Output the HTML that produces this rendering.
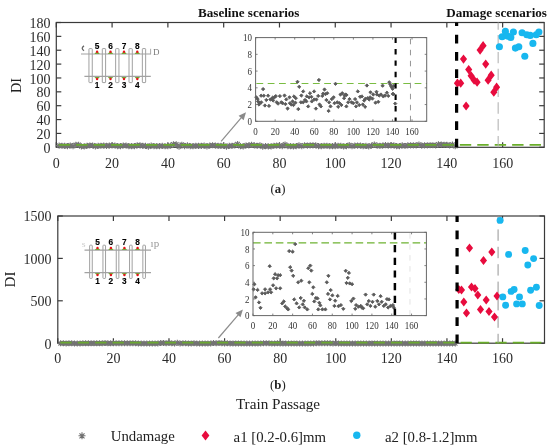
<!DOCTYPE html>
<html><head><meta charset="utf-8"><title>DI figure</title><style>html,body{margin:0;padding:0;background:#fff;overflow:hidden}svg{display:block}</style></head><body>
<svg width="550" height="448" viewBox="0 0 550 448">
<rect width="550" height="448" fill="#fff"/>
<rect x="56.3" y="22.5" width="487.9" height="124.8" fill="none" stroke="#3a3a3a" stroke-width="1.2"/>
<line x1="56.3" y1="147.3" x2="61.3" y2="147.3" stroke="#3a3a3a" stroke-width="1.2"/>
<line x1="544.2" y1="147.3" x2="539.2" y2="147.3" stroke="#3a3a3a" stroke-width="1.2"/>
<text transform="translate(50.4 152.9) scale(1 1.06)" font-family="'Liberation Serif','Times New Roman',serif" font-size="14" font-weight="normal" text-anchor="end" fill="#2a2a2a">0</text>
<line x1="56.3" y1="133.43" x2="61.3" y2="133.43" stroke="#3a3a3a" stroke-width="1.2"/>
<line x1="544.2" y1="133.43" x2="539.2" y2="133.43" stroke="#3a3a3a" stroke-width="1.2"/>
<text transform="translate(50.4 139.03) scale(1 1.06)" font-family="'Liberation Serif','Times New Roman',serif" font-size="14" font-weight="normal" text-anchor="end" fill="#2a2a2a">20</text>
<line x1="56.3" y1="119.57" x2="61.3" y2="119.57" stroke="#3a3a3a" stroke-width="1.2"/>
<line x1="544.2" y1="119.57" x2="539.2" y2="119.57" stroke="#3a3a3a" stroke-width="1.2"/>
<text transform="translate(50.4 125.17) scale(1 1.06)" font-family="'Liberation Serif','Times New Roman',serif" font-size="14" font-weight="normal" text-anchor="end" fill="#2a2a2a">40</text>
<line x1="56.3" y1="105.7" x2="61.3" y2="105.7" stroke="#3a3a3a" stroke-width="1.2"/>
<line x1="544.2" y1="105.7" x2="539.2" y2="105.7" stroke="#3a3a3a" stroke-width="1.2"/>
<text transform="translate(50.4 111.3) scale(1 1.06)" font-family="'Liberation Serif','Times New Roman',serif" font-size="14" font-weight="normal" text-anchor="end" fill="#2a2a2a">60</text>
<line x1="56.3" y1="91.83" x2="61.3" y2="91.83" stroke="#3a3a3a" stroke-width="1.2"/>
<line x1="544.2" y1="91.83" x2="539.2" y2="91.83" stroke="#3a3a3a" stroke-width="1.2"/>
<text transform="translate(50.4 97.43) scale(1 1.06)" font-family="'Liberation Serif','Times New Roman',serif" font-size="14" font-weight="normal" text-anchor="end" fill="#2a2a2a">80</text>
<line x1="56.3" y1="77.97" x2="61.3" y2="77.97" stroke="#3a3a3a" stroke-width="1.2"/>
<line x1="544.2" y1="77.97" x2="539.2" y2="77.97" stroke="#3a3a3a" stroke-width="1.2"/>
<text transform="translate(50.4 83.57) scale(1 1.06)" font-family="'Liberation Serif','Times New Roman',serif" font-size="14" font-weight="normal" text-anchor="end" fill="#2a2a2a">100</text>
<line x1="56.3" y1="64.1" x2="61.3" y2="64.1" stroke="#3a3a3a" stroke-width="1.2"/>
<line x1="544.2" y1="64.1" x2="539.2" y2="64.1" stroke="#3a3a3a" stroke-width="1.2"/>
<text transform="translate(50.4 69.7) scale(1 1.06)" font-family="'Liberation Serif','Times New Roman',serif" font-size="14" font-weight="normal" text-anchor="end" fill="#2a2a2a">120</text>
<line x1="56.3" y1="50.23" x2="61.3" y2="50.23" stroke="#3a3a3a" stroke-width="1.2"/>
<line x1="544.2" y1="50.23" x2="539.2" y2="50.23" stroke="#3a3a3a" stroke-width="1.2"/>
<text transform="translate(50.4 55.83) scale(1 1.06)" font-family="'Liberation Serif','Times New Roman',serif" font-size="14" font-weight="normal" text-anchor="end" fill="#2a2a2a">140</text>
<line x1="56.3" y1="36.37" x2="61.3" y2="36.37" stroke="#3a3a3a" stroke-width="1.2"/>
<line x1="544.2" y1="36.37" x2="539.2" y2="36.37" stroke="#3a3a3a" stroke-width="1.2"/>
<text transform="translate(50.4 41.97) scale(1 1.06)" font-family="'Liberation Serif','Times New Roman',serif" font-size="14" font-weight="normal" text-anchor="end" fill="#2a2a2a">160</text>
<line x1="56.3" y1="22.5" x2="61.3" y2="22.5" stroke="#3a3a3a" stroke-width="1.2"/>
<line x1="544.2" y1="22.5" x2="539.2" y2="22.5" stroke="#3a3a3a" stroke-width="1.2"/>
<text transform="translate(50.4 28.1) scale(1 1.06)" font-family="'Liberation Serif','Times New Roman',serif" font-size="14" font-weight="normal" text-anchor="end" fill="#2a2a2a">180</text>
<line x1="56.3" y1="147.3" x2="56.3" y2="142.3" stroke="#3a3a3a" stroke-width="1.2"/>
<line x1="56.3" y1="22.5" x2="56.3" y2="27.5" stroke="#3a3a3a" stroke-width="1.2"/>
<text transform="translate(56.3 168.2) scale(1 1.08)" font-family="'Liberation Serif','Times New Roman',serif" font-size="14" font-weight="normal" text-anchor="middle" fill="#2a2a2a">0</text>
<line x1="112.09" y1="147.3" x2="112.09" y2="142.3" stroke="#3a3a3a" stroke-width="1.2"/>
<line x1="112.09" y1="22.5" x2="112.09" y2="27.5" stroke="#3a3a3a" stroke-width="1.2"/>
<text transform="translate(112.09 168.2) scale(1 1.08)" font-family="'Liberation Serif','Times New Roman',serif" font-size="14" font-weight="normal" text-anchor="middle" fill="#2a2a2a">20</text>
<line x1="167.88" y1="147.3" x2="167.88" y2="142.3" stroke="#3a3a3a" stroke-width="1.2"/>
<line x1="167.88" y1="22.5" x2="167.88" y2="27.5" stroke="#3a3a3a" stroke-width="1.2"/>
<text transform="translate(167.88 168.2) scale(1 1.08)" font-family="'Liberation Serif','Times New Roman',serif" font-size="14" font-weight="normal" text-anchor="middle" fill="#2a2a2a">40</text>
<line x1="223.68" y1="147.3" x2="223.68" y2="142.3" stroke="#3a3a3a" stroke-width="1.2"/>
<line x1="223.68" y1="22.5" x2="223.68" y2="27.5" stroke="#3a3a3a" stroke-width="1.2"/>
<text transform="translate(223.68 168.2) scale(1 1.08)" font-family="'Liberation Serif','Times New Roman',serif" font-size="14" font-weight="normal" text-anchor="middle" fill="#2a2a2a">60</text>
<line x1="279.47" y1="147.3" x2="279.47" y2="142.3" stroke="#3a3a3a" stroke-width="1.2"/>
<line x1="279.47" y1="22.5" x2="279.47" y2="27.5" stroke="#3a3a3a" stroke-width="1.2"/>
<text transform="translate(279.47 168.2) scale(1 1.08)" font-family="'Liberation Serif','Times New Roman',serif" font-size="14" font-weight="normal" text-anchor="middle" fill="#2a2a2a">80</text>
<line x1="335.26" y1="147.3" x2="335.26" y2="142.3" stroke="#3a3a3a" stroke-width="1.2"/>
<line x1="335.26" y1="22.5" x2="335.26" y2="27.5" stroke="#3a3a3a" stroke-width="1.2"/>
<text transform="translate(335.26 168.2) scale(1 1.08)" font-family="'Liberation Serif','Times New Roman',serif" font-size="14" font-weight="normal" text-anchor="middle" fill="#2a2a2a">100</text>
<line x1="391.05" y1="147.3" x2="391.05" y2="142.3" stroke="#3a3a3a" stroke-width="1.2"/>
<line x1="391.05" y1="22.5" x2="391.05" y2="27.5" stroke="#3a3a3a" stroke-width="1.2"/>
<text transform="translate(391.05 168.2) scale(1 1.08)" font-family="'Liberation Serif','Times New Roman',serif" font-size="14" font-weight="normal" text-anchor="middle" fill="#2a2a2a">120</text>
<line x1="446.84" y1="147.3" x2="446.84" y2="142.3" stroke="#3a3a3a" stroke-width="1.2"/>
<line x1="446.84" y1="22.5" x2="446.84" y2="27.5" stroke="#3a3a3a" stroke-width="1.2"/>
<text transform="translate(446.84 168.2) scale(1 1.08)" font-family="'Liberation Serif','Times New Roman',serif" font-size="14" font-weight="normal" text-anchor="middle" fill="#2a2a2a">140</text>
<line x1="502.64" y1="147.3" x2="502.64" y2="142.3" stroke="#3a3a3a" stroke-width="1.2"/>
<line x1="502.64" y1="22.5" x2="502.64" y2="27.5" stroke="#3a3a3a" stroke-width="1.2"/>
<text transform="translate(502.64 168.2) scale(1 1.08)" font-family="'Liberation Serif','Times New Roman',serif" font-size="14" font-weight="normal" text-anchor="middle" fill="#2a2a2a">160</text>
<line x1="56.3" y1="144.8" x2="544.2" y2="144.8" stroke="#6aae2a" stroke-width="1.8" stroke-dasharray="11.4 6.04" stroke-dashoffset="15.04"/>
<path d="M55.99 145.61h6.2M59.09 142.51v6.2M56.86 143.38l4.46 4.46M56.86 147.84l4.46 -4.46M58.78 145.76h6.2M61.88 142.66v6.2M59.65 143.53l4.46 4.46M59.65 147.99l4.46 -4.46M61.57 145.95h6.2M64.67 142.85v6.2M62.44 143.72l4.46 4.46M62.44 148.18l4.46 -4.46M64.36 146.1h6.2M67.46 143v6.2M65.23 143.87l4.46 4.46M65.23 148.33l4.46 -4.46M67.15 145.48h6.2M70.25 142.38v6.2M68.02 143.25l4.46 4.46M68.02 147.71l4.46 -4.46M69.94 146.03h6.2M73.04 142.93v6.2M70.81 143.79l4.46 4.46M70.81 148.26l4.46 -4.46M72.73 144.93h6.2M75.83 141.83v6.2M73.6 142.7l4.46 4.46M73.6 147.16l4.46 -4.46M75.52 144.93h6.2M78.62 141.83v6.2M76.38 142.7l4.46 4.46M76.38 147.16l4.46 -4.46M78.31 146.29h6.2M81.41 143.19v6.2M79.17 144.06l4.46 4.46M79.17 148.52l4.46 -4.46M81.1 146.29h6.2M84.2 143.19v6.2M81.96 144.06l4.46 4.46M81.96 148.52l4.46 -4.46M83.89 145.84h6.2M86.99 142.74v6.2M84.75 143.6l4.46 4.46M84.75 148.07l4.46 -4.46M86.68 145.48h6.2M89.78 142.38v6.2M87.54 143.25l4.46 4.46M87.54 147.71l4.46 -4.46M89.46 145.48h6.2M92.56 142.38v6.2M90.33 143.25l4.46 4.46M90.33 147.71l4.46 -4.46M92.25 146.32h6.2M95.35 143.22v6.2M93.12 144.09l4.46 4.46M93.12 148.56l4.46 -4.46M95.04 145.79h6.2M98.14 142.69v6.2M95.91 143.56l4.46 4.46M95.91 148.03l4.46 -4.46M97.83 145.76h6.2M100.93 142.66v6.2M98.7 143.53l4.46 4.46M98.7 147.99l4.46 -4.46M100.62 145.65h6.2M103.72 142.55v6.2M101.49 143.41l4.46 4.46M101.49 147.88l4.46 -4.46M103.41 145.88h6.2M106.51 142.78v6.2M104.28 143.65l4.46 4.46M104.28 148.11l4.46 -4.46M106.2 145.61h6.2M109.3 142.51v6.2M107.07 143.38l4.46 4.46M107.07 147.84l4.46 -4.46M108.99 145.51h6.2M112.09 142.41v6.2M109.86 143.28l4.46 4.46M109.86 147.74l4.46 -4.46M111.78 145.51h6.2M114.88 142.41v6.2M112.65 143.28l4.46 4.46M112.65 147.74l4.46 -4.46M114.57 146.03h6.2M117.67 142.93v6.2M115.44 143.79l4.46 4.46M115.44 148.26l4.46 -4.46M117.36 146.13h6.2M120.46 143.03v6.2M118.23 143.9l4.46 4.46M118.23 148.37l4.46 -4.46M120.15 145.51h6.2M123.25 142.41v6.2M121.02 143.28l4.46 4.46M121.02 147.74l4.46 -4.46M122.94 145.51h6.2M126.04 142.41v6.2M123.81 143.28l4.46 4.46M123.81 147.74l4.46 -4.46M125.73 146.03h6.2M128.83 142.93v6.2M126.6 143.79l4.46 4.46M126.6 148.26l4.46 -4.46M128.52 146.1h6.2M131.62 143v6.2M129.39 143.87l4.46 4.46M129.39 148.33l4.46 -4.46M131.31 146.1h6.2M134.41 143v6.2M132.18 143.87l4.46 4.46M132.18 148.33l4.46 -4.46M134.1 145.46h6.2M137.2 142.36v6.2M134.97 143.23l4.46 4.46M134.97 147.69l4.46 -4.46M136.89 145.46h6.2M139.99 142.36v6.2M137.76 143.23l4.46 4.46M137.76 147.69l4.46 -4.46M139.68 145.79h6.2M142.78 142.69v6.2M140.55 143.55l4.46 4.46M140.55 148.02l4.46 -4.46M142.47 145.79h6.2M145.57 142.69v6.2M143.34 143.55l4.46 4.46M143.34 148.02l4.46 -4.46M145.26 146.54h6.2M148.36 143.44v6.2M146.12 144.31l4.46 4.46M146.12 148.77l4.46 -4.46M148.05 145.61h6.2M151.15 142.51v6.2M148.91 143.38l4.46 4.46M148.91 147.84l4.46 -4.46M150.84 146.1h6.2M153.94 143v6.2M151.7 143.87l4.46 4.46M151.7 148.33l4.46 -4.46M153.63 146.21h6.2M156.73 143.11v6.2M154.49 143.98l4.46 4.46M154.49 148.44l4.46 -4.46M156.41 146.21h6.2M159.51 143.11v6.2M157.28 143.98l4.46 4.46M157.28 148.44l4.46 -4.46M159.2 145.95h6.2M162.3 142.85v6.2M160.07 143.72l4.46 4.46M160.07 148.18l4.46 -4.46M161.99 146.25h6.2M165.09 143.15v6.2M162.86 144.02l4.46 4.46M162.86 148.48l4.46 -4.46M164.78 146.06h6.2M167.88 142.96v6.2M165.65 143.83l4.46 4.46M165.65 148.29l4.46 -4.46M167.57 145.69h6.2M170.67 142.59v6.2M168.44 143.45l4.46 4.46M168.44 147.92l4.46 -4.46M170.36 144.33h6.2M173.46 141.23v6.2M171.23 142.1l4.46 4.46M171.23 146.56l4.46 -4.46M173.15 144.33h6.2M176.25 141.23v6.2M174.02 142.1l4.46 4.46M174.02 146.56l4.46 -4.46M175.94 146.59h6.2M179.04 143.49v6.2M176.81 144.36l4.46 4.46M176.81 148.82l4.46 -4.46M178.73 144.74h6.2M181.83 141.64v6.2M179.6 142.51l4.46 4.46M179.6 146.97l4.46 -4.46M181.52 146.03h6.2M184.62 142.93v6.2M182.39 143.79l4.46 4.46M182.39 148.26l4.46 -4.46M184.31 145.46h6.2M187.41 142.36v6.2M185.18 143.23l4.46 4.46M185.18 147.69l4.46 -4.46M187.1 146.03h6.2M190.2 142.93v6.2M187.97 143.79l4.46 4.46M187.97 148.26l4.46 -4.46M189.89 146.03h6.2M192.99 142.93v6.2M190.76 143.79l4.46 4.46M190.76 148.26l4.46 -4.46M192.68 145.84h6.2M195.78 142.74v6.2M193.55 143.6l4.46 4.46M193.55 148.07l4.46 -4.46M195.47 145.84h6.2M198.57 142.74v6.2M196.34 143.6l4.46 4.46M196.34 148.07l4.46 -4.46M198.26 145.95h6.2M201.36 142.85v6.2M199.13 143.72l4.46 4.46M199.13 148.18l4.46 -4.46M201.05 145.54h6.2M204.15 142.44v6.2M201.92 143.31l4.46 4.46M201.92 147.77l4.46 -4.46M203.84 146.37h6.2M206.94 143.27v6.2M204.71 144.13l4.46 4.46M204.71 148.6l4.46 -4.46M206.63 145.61h6.2M209.73 142.51v6.2M207.5 143.38l4.46 4.46M207.5 147.84l4.46 -4.46M209.42 145.27h6.2M212.52 142.17v6.2M210.29 143.04l4.46 4.46M210.29 147.5l4.46 -4.46M212.21 145.57h6.2M215.31 142.47v6.2M213.07 143.34l4.46 4.46M213.07 147.8l4.46 -4.46M215 145.95h6.2M218.1 142.85v6.2M215.86 143.72l4.46 4.46M215.86 148.18l4.46 -4.46M217.79 145.79h6.2M220.89 142.69v6.2M218.65 143.56l4.46 4.46M218.65 148.03l4.46 -4.46M220.58 145.79h6.2M223.68 142.69v6.2M221.44 143.56l4.46 4.46M221.44 148.03l4.46 -4.46M223.37 146.55h6.2M226.47 143.45v6.2M224.23 144.32l4.46 4.46M224.23 148.78l4.46 -4.46M226.15 145.79h6.2M229.25 142.69v6.2M227.02 143.56l4.46 4.46M227.02 148.03l4.46 -4.46M228.94 145.79h6.2M232.04 142.69v6.2M229.81 143.56l4.46 4.46M229.81 148.03l4.46 -4.46M231.73 145.5h6.2M234.83 142.4v6.2M232.6 143.26l4.46 4.46M232.6 147.73l4.46 -4.46M234.52 144.18h6.2M237.62 141.08v6.2M235.39 141.95l4.46 4.46M235.39 146.41l4.46 -4.46M237.31 146.21h6.2M240.41 143.11v6.2M238.18 143.98l4.46 4.46M238.18 148.44l4.46 -4.46M240.1 146.37h6.2M243.2 143.27v6.2M240.97 144.13l4.46 4.46M240.97 148.6l4.46 -4.46M242.89 145.5h6.2M245.99 142.4v6.2M243.76 143.26l4.46 4.46M243.76 147.73l4.46 -4.46M245.68 145.31h6.2M248.78 142.21v6.2M246.55 143.07l4.46 4.46M246.55 147.54l4.46 -4.46M248.47 144.97h6.2M251.57 141.87v6.2M249.34 142.73l4.46 4.46M249.34 147.2l4.46 -4.46M251.26 145.35h6.2M254.36 142.25v6.2M252.13 143.11l4.46 4.46M252.13 147.58l4.46 -4.46M254.05 145.84h6.2M257.15 142.74v6.2M254.92 143.6l4.46 4.46M254.92 148.07l4.46 -4.46M256.84 145.27h6.2M259.94 142.17v6.2M257.71 143.04l4.46 4.46M257.71 147.5l4.46 -4.46M259.63 146.74h6.2M262.73 143.64v6.2M260.5 144.51l4.46 4.46M260.5 148.97l4.46 -4.46M262.42 146.03h6.2M265.52 142.93v6.2M263.29 143.79l4.46 4.46M263.29 148.26l4.46 -4.46M265.21 146.37h6.2M268.31 143.27v6.2M266.08 144.13l4.46 4.46M266.08 148.6l4.46 -4.46M268 146.37h6.2M271.1 143.27v6.2M268.87 144.13l4.46 4.46M268.87 148.6l4.46 -4.46M270.79 145.76h6.2M273.89 142.66v6.2M271.66 143.53l4.46 4.46M271.66 147.99l4.46 -4.46M273.58 145.61h6.2M276.68 142.51v6.2M274.45 143.38l4.46 4.46M274.45 147.84l4.46 -4.46M276.37 145.61h6.2M279.47 142.51v6.2M277.24 143.38l4.46 4.46M277.24 147.84l4.46 -4.46M279.16 146.1h6.2M282.26 143v6.2M280.03 143.87l4.46 4.46M280.03 148.33l4.46 -4.46M281.95 144.49h6.2M285.05 141.39v6.2M282.81 142.26l4.46 4.46M282.81 146.73l4.46 -4.46M284.74 146.03h6.2M287.84 142.93v6.2M285.6 143.79l4.46 4.46M285.6 148.26l4.46 -4.46M287.53 146.03h6.2M290.63 142.93v6.2M288.39 143.79l4.46 4.46M288.39 148.26l4.46 -4.46M290.32 146.4h6.2M293.42 143.3v6.2M291.18 144.17l4.46 4.46M291.18 148.63l4.46 -4.46M293.11 146.1h6.2M296.21 143v6.2M293.97 143.87l4.46 4.46M293.97 148.33l4.46 -4.46M295.89 145.38h6.2M298.99 142.28v6.2M296.76 143.15l4.46 4.46M296.76 147.61l4.46 -4.46M298.68 146.25h6.2M301.78 143.15v6.2M299.55 144.02l4.46 4.46M299.55 148.48l4.46 -4.46M301.47 145.27h6.2M304.57 142.17v6.2M302.34 143.04l4.46 4.46M302.34 147.5l4.46 -4.46M304.26 145.69h6.2M307.36 142.59v6.2M305.13 143.45l4.46 4.46M305.13 147.92l4.46 -4.46M307.05 145.46h6.2M310.15 142.36v6.2M307.92 143.23l4.46 4.46M307.92 147.69l4.46 -4.46M309.84 145.38h6.2M312.94 142.28v6.2M310.71 143.15l4.46 4.46M310.71 147.61l4.46 -4.46M312.63 145.42h6.2M315.73 142.32v6.2M313.5 143.19l4.46 4.46M313.5 147.65l4.46 -4.46M315.42 146.03h6.2M318.52 142.93v6.2M316.29 143.79l4.46 4.46M316.29 148.26l4.46 -4.46M318.21 146.03h6.2M321.31 142.93v6.2M319.08 143.79l4.46 4.46M319.08 148.26l4.46 -4.46M321 145.76h6.2M324.1 142.66v6.2M321.87 143.53l4.46 4.46M321.87 147.99l4.46 -4.46M323.79 145.76h6.2M326.89 142.66v6.2M324.66 143.53l4.46 4.46M324.66 147.99l4.46 -4.46M326.58 146.03h6.2M329.68 142.93v6.2M327.45 143.79l4.46 4.46M327.45 148.26l4.46 -4.46M329.37 146.03h6.2M332.47 142.93v6.2M330.24 143.79l4.46 4.46M330.24 148.26l4.46 -4.46M332.16 146.1h6.2M335.26 143v6.2M333.03 143.87l4.46 4.46M333.03 148.33l4.46 -4.46M334.95 145.76h6.2M338.05 142.66v6.2M335.82 143.53l4.46 4.46M335.82 147.99l4.46 -4.46M337.74 145.76h6.2M340.84 142.66v6.2M338.61 143.53l4.46 4.46M338.61 147.99l4.46 -4.46M340.53 146.37h6.2M343.63 143.27v6.2M341.4 144.13l4.46 4.46M341.4 148.6l4.46 -4.46M343.32 146.03h6.2M346.42 142.93v6.2M344.19 143.79l4.46 4.46M344.19 148.26l4.46 -4.46M346.11 145.12h6.2M349.21 142.02v6.2M346.98 142.89l4.46 4.46M346.98 147.36l4.46 -4.46M348.9 146.25h6.2M352 143.15v6.2M349.76 144.02l4.46 4.46M349.76 148.48l4.46 -4.46M351.69 145.57h6.2M354.79 142.47v6.2M352.55 143.34l4.46 4.46M352.55 147.8l4.46 -4.46M354.48 145.54h6.2M357.58 142.44v6.2M355.34 143.31l4.46 4.46M355.34 147.77l4.46 -4.46M357.27 145.54h6.2M360.37 142.44v6.2M358.13 143.31l4.46 4.46M358.13 147.77l4.46 -4.46M360.06 146.21h6.2M363.16 143.11v6.2M360.92 143.98l4.46 4.46M360.92 148.44l4.46 -4.46M362.84 145.88h6.2M365.94 142.78v6.2M363.71 143.65l4.46 4.46M363.71 148.11l4.46 -4.46M365.63 146.4h6.2M368.73 143.3v6.2M366.5 144.17l4.46 4.46M366.5 148.63l4.46 -4.46M368.42 145.72h6.2M371.52 142.62v6.2M369.29 143.49l4.46 4.46M369.29 147.95l4.46 -4.46M371.21 144.63h6.2M374.31 141.53v6.2M372.08 142.4l4.46 4.46M372.08 146.87l4.46 -4.46M374 145.69h6.2M377.1 142.59v6.2M374.87 143.45l4.46 4.46M374.87 147.92l4.46 -4.46M376.79 145.79h6.2M379.89 142.69v6.2M377.66 143.56l4.46 4.46M377.66 148.03l4.46 -4.46M379.58 145.61h6.2M382.68 142.51v6.2M380.45 143.38l4.46 4.46M380.45 147.84l4.46 -4.46M382.37 145.2h6.2M385.47 142.1v6.2M383.24 142.97l4.46 4.46M383.24 147.43l4.46 -4.46M385.16 145.72h6.2M388.26 142.62v6.2M386.03 143.49l4.46 4.46M386.03 147.95l4.46 -4.46M387.95 145.38h6.2M391.05 142.28v6.2M388.82 143.15l4.46 4.46M388.82 147.61l4.46 -4.46M390.74 145.38h6.2M393.84 142.28v6.2M391.61 143.15l4.46 4.46M391.61 147.61l4.46 -4.46M393.53 146.06h6.2M396.63 142.96v6.2M394.4 143.83l4.46 4.46M394.4 148.29l4.46 -4.46M396.32 146.06h6.2M399.42 142.96v6.2M397.19 143.83l4.46 4.46M397.19 148.29l4.46 -4.46M399.11 145.38h6.2M402.21 142.28v6.2M399.98 143.15l4.46 4.46M399.98 147.61l4.46 -4.46M401.9 145.98h6.2M405 142.88v6.2M402.77 143.75l4.46 4.46M402.77 148.22l4.46 -4.46M404.69 145.46h6.2M407.79 142.36v6.2M405.56 143.23l4.46 4.46M405.56 147.69l4.46 -4.46M407.48 145.46h6.2M410.58 142.36v6.2M408.35 143.23l4.46 4.46M408.35 147.69l4.46 -4.46M410.27 145.38h6.2M413.37 142.28v6.2M411.14 143.15l4.46 4.46M411.14 147.61l4.46 -4.46M413.06 145.38h6.2M416.16 142.28v6.2M413.93 143.15l4.46 4.46M413.93 147.61l4.46 -4.46M415.85 144.65h6.2M418.95 141.55v6.2M416.72 142.42l4.46 4.46M416.72 146.88l4.46 -4.46M418.64 145.54h6.2M421.74 142.44v6.2M419.5 143.31l4.46 4.46M419.5 147.77l4.46 -4.46M421.43 145.46h6.2M424.53 142.36v6.2M422.29 143.23l4.46 4.46M422.29 147.69l4.46 -4.46M424.22 145.46h6.2M427.32 142.36v6.2M425.08 143.23l4.46 4.46M425.08 147.69l4.46 -4.46M427.01 145.23h6.2M430.11 142.13v6.2M427.87 143l4.46 4.46M427.87 147.46l4.46 -4.46M429.8 145.23h6.2M432.9 142.13v6.2M430.66 143l4.46 4.46M430.66 147.46l4.46 -4.46M432.58 145.5h6.2M435.68 142.4v6.2M433.45 143.26l4.46 4.46M433.45 147.73l4.46 -4.46M435.37 144.37h6.2M438.47 141.27v6.2M436.24 142.14l4.46 4.46M436.24 146.6l4.46 -4.46M438.16 144.56h6.2M441.26 141.46v6.2M439.03 142.33l4.46 4.46M439.03 146.79l4.46 -4.46M440.95 144.74h6.2M444.05 141.64v6.2M441.82 142.51l4.46 4.46M441.82 146.97l4.46 -4.46M443.74 144.91h6.2M446.84 141.81v6.2M444.61 142.68l4.46 4.46M444.61 147.14l4.46 -4.46M446.53 145.35h6.2M449.63 142.25v6.2M447.4 143.11l4.46 4.46M447.4 147.58l4.46 -4.46M449.32 144.68h6.2M452.42 141.58v6.2M450.19 142.44l4.46 4.46M450.19 146.91l4.46 -4.46M452.11 146.13h6.2M455.21 143.03v6.2M452.98 143.9l4.46 4.46M452.98 148.37l4.46 -4.46" stroke="#737373" stroke-width="1.1" fill="none"/>
<line x1="56.3" y1="144.8" x2="455.21" y2="144.8" stroke="#6aae2a" stroke-width="1.8" stroke-dasharray="11.4 6.04" stroke-dashoffset="15.04" opacity="0.9"/>
<line x1="498.17" y1="147.3" x2="498.17" y2="22.5" stroke="#b4b4b4" stroke-width="1.1" stroke-dasharray="11.4 5.4" stroke-dashoffset="0"/>
<path d="M457.4 78.6L460.95 83.2L457.4 87.8L453.85 83.2ZM460.7 78.6L464.25 83.2L460.7 87.8L457.15 83.2ZM463.5 54.5L467.05 59.1L463.5 63.7L459.95 59.1ZM466.1 101.4L469.65 106L466.1 110.6L462.55 106ZM468.7 65L472.25 69.6L468.7 74.2L465.15 69.6ZM471.1 71.2L474.65 75.8L471.1 80.4L467.55 75.8ZM474.1 75.6L477.65 80.2L474.1 84.8L470.55 80.2ZM477.1 77.6L480.65 82.2L477.1 86.8L473.55 82.2ZM480.1 45.5L483.65 50.1L480.1 54.7L476.55 50.1ZM483.1 41.1L486.65 45.7L483.1 50.3L479.55 45.7ZM485.7 59.5L489.25 64.1L485.7 68.7L482.15 64.1ZM488.1 75.6L491.65 80.2L488.1 84.8L484.55 80.2ZM491.2 70.6L494.75 75.2L491.2 79.8L487.65 75.2ZM493.8 87.6L497.35 92.2L493.8 96.8L490.25 92.2ZM496.6 82.6L500.15 87.2L496.6 91.8L493.05 87.2Z" fill="#e80c3e"/>
<circle cx="499.4" cy="46.8" r="3.55" fill="#18b7ef"/>
<circle cx="502.1" cy="36.7" r="3.55" fill="#18b7ef"/>
<circle cx="505.4" cy="31.4" r="3.55" fill="#18b7ef"/>
<circle cx="507.4" cy="36.1" r="3.55" fill="#18b7ef"/>
<circle cx="510.8" cy="37.4" r="3.55" fill="#18b7ef"/>
<circle cx="513.4" cy="32" r="3.55" fill="#18b7ef"/>
<circle cx="515.4" cy="48.1" r="3.55" fill="#18b7ef"/>
<circle cx="518.8" cy="46.8" r="3.55" fill="#18b7ef"/>
<circle cx="522.1" cy="32.7" r="3.55" fill="#18b7ef"/>
<circle cx="524.8" cy="56.2" r="3.55" fill="#18b7ef"/>
<circle cx="526.8" cy="34.7" r="3.55" fill="#18b7ef"/>
<circle cx="530.2" cy="35.4" r="3.55" fill="#18b7ef"/>
<circle cx="532.9" cy="43.4" r="3.55" fill="#18b7ef"/>
<circle cx="536.2" cy="34.7" r="3.55" fill="#18b7ef"/>
<circle cx="538.9" cy="32" r="3.55" fill="#18b7ef"/>
<line x1="456.61" y1="147.3" x2="456.61" y2="22.5" stroke="#000" stroke-width="3.2" stroke-dasharray="8.66 8.66"/>
<text transform="translate(20.6 85.4) rotate(-90) scale(1 1)" font-family="'Liberation Serif','Times New Roman',serif" font-size="14.2" text-anchor="middle" fill="#222">DI</text>
<rect x="57.8" y="216" width="486.7" height="127.2" fill="none" stroke="#3a3a3a" stroke-width="1.2"/>
<line x1="57.8" y1="343.2" x2="62.8" y2="343.2" stroke="#3a3a3a" stroke-width="1.2"/>
<line x1="544.5" y1="343.2" x2="539.5" y2="343.2" stroke="#3a3a3a" stroke-width="1.2"/>
<text transform="translate(51.4 348.6) scale(1 1.04)" font-family="'Liberation Serif','Times New Roman',serif" font-size="14" font-weight="normal" text-anchor="end" fill="#2a2a2a">0</text>
<line x1="57.8" y1="300.8" x2="62.8" y2="300.8" stroke="#3a3a3a" stroke-width="1.2"/>
<line x1="544.5" y1="300.8" x2="539.5" y2="300.8" stroke="#3a3a3a" stroke-width="1.2"/>
<text transform="translate(51.4 306.2) scale(1 1.04)" font-family="'Liberation Serif','Times New Roman',serif" font-size="14" font-weight="normal" text-anchor="end" fill="#2a2a2a">500</text>
<line x1="57.8" y1="258.4" x2="62.8" y2="258.4" stroke="#3a3a3a" stroke-width="1.2"/>
<line x1="544.5" y1="258.4" x2="539.5" y2="258.4" stroke="#3a3a3a" stroke-width="1.2"/>
<text transform="translate(51.4 263.8) scale(1 1.04)" font-family="'Liberation Serif','Times New Roman',serif" font-size="14" font-weight="normal" text-anchor="end" fill="#2a2a2a">1000</text>
<line x1="57.8" y1="216" x2="62.8" y2="216" stroke="#3a3a3a" stroke-width="1.2"/>
<line x1="544.5" y1="216" x2="539.5" y2="216" stroke="#3a3a3a" stroke-width="1.2"/>
<text transform="translate(51.4 221.4) scale(1 1.04)" font-family="'Liberation Serif','Times New Roman',serif" font-size="14" font-weight="normal" text-anchor="end" fill="#2a2a2a">1500</text>
<line x1="57.8" y1="343.2" x2="57.8" y2="338.2" stroke="#3a3a3a" stroke-width="1.2"/>
<line x1="57.8" y1="216" x2="57.8" y2="221" stroke="#3a3a3a" stroke-width="1.2"/>
<text transform="translate(57.8 363)" font-family="'Liberation Serif','Times New Roman',serif" font-size="14" font-weight="normal" text-anchor="middle" fill="#2a2a2a">0</text>
<line x1="113.39" y1="343.2" x2="113.39" y2="338.2" stroke="#3a3a3a" stroke-width="1.2"/>
<line x1="113.39" y1="216" x2="113.39" y2="221" stroke="#3a3a3a" stroke-width="1.2"/>
<text transform="translate(113.39 363)" font-family="'Liberation Serif','Times New Roman',serif" font-size="14" font-weight="normal" text-anchor="middle" fill="#2a2a2a">20</text>
<line x1="168.98" y1="343.2" x2="168.98" y2="338.2" stroke="#3a3a3a" stroke-width="1.2"/>
<line x1="168.98" y1="216" x2="168.98" y2="221" stroke="#3a3a3a" stroke-width="1.2"/>
<text transform="translate(168.98 363)" font-family="'Liberation Serif','Times New Roman',serif" font-size="14" font-weight="normal" text-anchor="middle" fill="#2a2a2a">40</text>
<line x1="224.57" y1="343.2" x2="224.57" y2="338.2" stroke="#3a3a3a" stroke-width="1.2"/>
<line x1="224.57" y1="216" x2="224.57" y2="221" stroke="#3a3a3a" stroke-width="1.2"/>
<text transform="translate(224.57 363)" font-family="'Liberation Serif','Times New Roman',serif" font-size="14" font-weight="normal" text-anchor="middle" fill="#2a2a2a">60</text>
<line x1="280.16" y1="343.2" x2="280.16" y2="338.2" stroke="#3a3a3a" stroke-width="1.2"/>
<line x1="280.16" y1="216" x2="280.16" y2="221" stroke="#3a3a3a" stroke-width="1.2"/>
<text transform="translate(280.16 363)" font-family="'Liberation Serif','Times New Roman',serif" font-size="14" font-weight="normal" text-anchor="middle" fill="#2a2a2a">80</text>
<line x1="335.76" y1="343.2" x2="335.76" y2="338.2" stroke="#3a3a3a" stroke-width="1.2"/>
<line x1="335.76" y1="216" x2="335.76" y2="221" stroke="#3a3a3a" stroke-width="1.2"/>
<text transform="translate(335.76 363)" font-family="'Liberation Serif','Times New Roman',serif" font-size="14" font-weight="normal" text-anchor="middle" fill="#2a2a2a">100</text>
<line x1="391.35" y1="343.2" x2="391.35" y2="338.2" stroke="#3a3a3a" stroke-width="1.2"/>
<line x1="391.35" y1="216" x2="391.35" y2="221" stroke="#3a3a3a" stroke-width="1.2"/>
<text transform="translate(391.35 363)" font-family="'Liberation Serif','Times New Roman',serif" font-size="14" font-weight="normal" text-anchor="middle" fill="#2a2a2a">120</text>
<line x1="446.94" y1="343.2" x2="446.94" y2="338.2" stroke="#3a3a3a" stroke-width="1.2"/>
<line x1="446.94" y1="216" x2="446.94" y2="221" stroke="#3a3a3a" stroke-width="1.2"/>
<text transform="translate(446.94 363)" font-family="'Liberation Serif','Times New Roman',serif" font-size="14" font-weight="normal" text-anchor="middle" fill="#2a2a2a">140</text>
<line x1="502.53" y1="343.2" x2="502.53" y2="338.2" stroke="#3a3a3a" stroke-width="1.2"/>
<line x1="502.53" y1="216" x2="502.53" y2="221" stroke="#3a3a3a" stroke-width="1.2"/>
<text transform="translate(502.53 363)" font-family="'Liberation Serif','Times New Roman',serif" font-size="14" font-weight="normal" text-anchor="middle" fill="#2a2a2a">160</text>
<line x1="57.8" y1="342.61" x2="544.5" y2="342.61" stroke="#6aae2a" stroke-width="1.8" stroke-dasharray="11.2 6.2" stroke-dashoffset="14.8"/>
<path d="M57.58 343.33h6M60.58 340.33v6M58.42 341.17l4.32 4.32M58.42 345.49l4.32 -4.32M60.36 343.28h6M63.36 340.28v6M61.2 341.12l4.32 4.32M61.2 345.44l4.32 -4.32M63.14 343.41h6M66.14 340.41v6M63.98 341.25l4.32 4.32M63.98 345.57l4.32 -4.32M65.92 343.34h6M68.92 340.34v6M66.76 341.18l4.32 4.32M66.76 345.5l4.32 -4.32M68.7 343.34h6M71.7 340.34v6M69.54 341.18l4.32 4.32M69.54 345.5l4.32 -4.32M71.48 343.47h6M74.48 340.47v6M72.32 341.31l4.32 4.32M72.32 345.63l4.32 -4.32M74.26 343.52h6M77.26 340.52v6M75.1 341.36l4.32 4.32M75.1 345.68l4.32 -4.32M77.04 343.52h6M80.04 340.52v6M77.88 341.36l4.32 4.32M77.88 345.68l4.32 -4.32M79.82 343.37h6M82.82 340.37v6M80.66 341.21l4.32 4.32M80.66 345.53l4.32 -4.32M82.6 343.37h6M85.6 340.37v6M83.44 341.21l4.32 4.32M83.44 345.53l4.32 -4.32M85.38 343.37h6M88.38 340.37v6M86.22 341.21l4.32 4.32M86.22 345.53l4.32 -4.32M88.15 343.37h6M91.15 340.37v6M88.99 341.21l4.32 4.32M88.99 345.53l4.32 -4.32M90.93 343.37h6M93.93 340.37v6M91.77 341.21l4.32 4.32M91.77 345.53l4.32 -4.32M93.71 343.36h6M96.71 340.36v6M94.55 341.2l4.32 4.32M94.55 345.52l4.32 -4.32M96.49 343.36h6M99.49 340.36v6M97.33 341.2l4.32 4.32M97.33 345.52l4.32 -4.32M99.27 343.36h6M102.27 340.36v6M100.11 341.2l4.32 4.32M100.11 345.52l4.32 -4.32M102.05 343.1h6M105.05 340.1v6M102.89 340.94l4.32 4.32M102.89 345.26l4.32 -4.32M104.83 343.36h6M107.83 340.36v6M105.67 341.2l4.32 4.32M105.67 345.52l4.32 -4.32M107.61 343.36h6M110.61 340.36v6M108.45 341.2l4.32 4.32M108.45 345.52l4.32 -4.32M110.39 343.29h6M113.39 340.29v6M111.23 341.13l4.32 4.32M111.23 345.45l4.32 -4.32M113.17 343.22h6M116.17 340.22v6M114.01 341.06l4.32 4.32M114.01 345.38l4.32 -4.32M115.95 343.18h6M118.95 340.18v6M116.79 341.02l4.32 4.32M116.79 345.34l4.32 -4.32M118.73 343.32h6M121.73 340.32v6M119.57 341.16l4.32 4.32M119.57 345.48l4.32 -4.32M121.51 343.22h6M124.51 340.22v6M122.35 341.06l4.32 4.32M122.35 345.38l4.32 -4.32M124.29 343.19h6M127.29 340.19v6M125.13 341.03l4.32 4.32M125.13 345.35l4.32 -4.32M127.07 343.19h6M130.07 340.19v6M127.91 341.03l4.32 4.32M127.91 345.35l4.32 -4.32M129.85 343.32h6M132.85 340.32v6M130.69 341.16l4.32 4.32M130.69 345.48l4.32 -4.32M132.63 343.32h6M135.63 340.32v6M133.47 341.16l4.32 4.32M133.47 345.48l4.32 -4.32M135.41 343.48h6M138.41 340.48v6M136.25 341.32l4.32 4.32M136.25 345.64l4.32 -4.32M138.19 343.48h6M141.19 340.48v6M139.03 341.32l4.32 4.32M139.03 345.64l4.32 -4.32M140.97 343.46h6M143.97 340.46v6M141.81 341.3l4.32 4.32M141.81 345.62l4.32 -4.32M143.75 343.51h6M146.75 340.51v6M144.59 341.35l4.32 4.32M144.59 345.67l4.32 -4.32M146.53 343.51h6M149.53 340.51v6M147.37 341.35l4.32 4.32M147.37 345.67l4.32 -4.32M149.3 343.53h6M152.3 340.53v6M150.14 341.37l4.32 4.32M150.14 345.69l4.32 -4.32M152.08 343.53h6M155.08 340.53v6M152.92 341.37l4.32 4.32M152.92 345.69l4.32 -4.32M154.86 343.54h6M157.86 340.54v6M155.7 341.38l4.32 4.32M155.7 345.7l4.32 -4.32M157.64 342.94h6M160.64 339.94v6M158.48 340.78l4.32 4.32M158.48 345.1l4.32 -4.32M160.42 343.11h6M163.42 340.11v6M161.26 340.95l4.32 4.32M161.26 345.27l4.32 -4.32M163.2 343.14h6M166.2 340.14v6M164.04 340.98l4.32 4.32M164.04 345.3l4.32 -4.32M165.98 342.95h6M168.98 339.95v6M166.82 340.79l4.32 4.32M166.82 345.11l4.32 -4.32M168.76 343.19h6M171.76 340.19v6M169.6 341.03l4.32 4.32M169.6 345.35l4.32 -4.32M171.54 343.44h6M174.54 340.44v6M172.38 341.28l4.32 4.32M172.38 345.6l4.32 -4.32M174.32 342.87h6M177.32 339.87v6M175.16 340.71l4.32 4.32M175.16 345.03l4.32 -4.32M177.1 343.48h6M180.1 340.48v6M177.94 341.32l4.32 4.32M177.94 345.64l4.32 -4.32M179.88 343.26h6M182.88 340.26v6M180.72 341.1l4.32 4.32M180.72 345.42l4.32 -4.32M182.66 343.26h6M185.66 340.26v6M183.5 341.1l4.32 4.32M183.5 345.42l4.32 -4.32M185.44 343.52h6M188.44 340.52v6M186.28 341.36l4.32 4.32M186.28 345.68l4.32 -4.32M188.22 343.42h6M191.22 340.42v6M189.06 341.26l4.32 4.32M189.06 345.58l4.32 -4.32M191 343.24h6M194 340.24v6M191.84 341.08l4.32 4.32M191.84 345.4l4.32 -4.32M193.78 343.49h6M196.78 340.49v6M194.62 341.33l4.32 4.32M194.62 345.65l4.32 -4.32M196.56 343.45h6M199.56 340.45v6M197.4 341.29l4.32 4.32M197.4 345.61l4.32 -4.32M199.34 343.52h6M202.34 340.52v6M200.18 341.36l4.32 4.32M200.18 345.68l4.32 -4.32M202.12 343.52h6M205.12 340.52v6M202.96 341.36l4.32 4.32M202.96 345.68l4.32 -4.32M204.9 343.54h6M207.9 340.54v6M205.74 341.38l4.32 4.32M205.74 345.7l4.32 -4.32M207.68 343.54h6M210.68 340.54v6M208.52 341.38l4.32 4.32M208.52 345.7l4.32 -4.32M210.46 343.12h6M213.46 340.12v6M211.3 340.96l4.32 4.32M211.3 345.28l4.32 -4.32M213.23 343.26h6M216.23 340.26v6M214.07 341.1l4.32 4.32M214.07 345.42l4.32 -4.32M216.01 343.09h6M219.01 340.09v6M216.85 340.93l4.32 4.32M216.85 345.25l4.32 -4.32M218.79 343.14h6M221.79 340.14v6M219.63 340.98l4.32 4.32M219.63 345.3l4.32 -4.32M221.57 343.38h6M224.57 340.38v6M222.41 341.22l4.32 4.32M222.41 345.54l4.32 -4.32M224.35 343.31h6M227.35 340.31v6M225.19 341.15l4.32 4.32M225.19 345.47l4.32 -4.32M227.13 343.46h6M230.13 340.46v6M227.97 341.3l4.32 4.32M227.97 345.62l4.32 -4.32M229.91 343.42h6M232.91 340.42v6M230.75 341.26l4.32 4.32M230.75 345.58l4.32 -4.32M232.69 343.42h6M235.69 340.42v6M233.53 341.26l4.32 4.32M233.53 345.58l4.32 -4.32M235.47 343.42h6M238.47 340.42v6M236.31 341.26l4.32 4.32M236.31 345.58l4.32 -4.32M238.25 343.54h6M241.25 340.54v6M239.09 341.38l4.32 4.32M239.09 345.7l4.32 -4.32M241.03 343.47h6M244.03 340.47v6M241.87 341.31l4.32 4.32M241.87 345.63l4.32 -4.32M243.81 343.5h6M246.81 340.5v6M244.65 341.34l4.32 4.32M244.65 345.66l4.32 -4.32M246.59 343.5h6M249.59 340.5v6M247.43 341.34l4.32 4.32M247.43 345.66l4.32 -4.32M249.37 343.54h6M252.37 340.54v6M250.21 341.38l4.32 4.32M250.21 345.7l4.32 -4.32M252.15 343.54h6M255.15 340.54v6M252.99 341.38l4.32 4.32M252.99 345.7l4.32 -4.32M254.93 343.54h6M257.93 340.54v6M255.77 341.38l4.32 4.32M255.77 345.7l4.32 -4.32M257.71 343.54h6M260.71 340.54v6M258.55 341.38l4.32 4.32M258.55 345.7l4.32 -4.32M260.49 343.26h6M263.49 340.26v6M261.33 341.1l4.32 4.32M261.33 345.42l4.32 -4.32M263.27 343.26h6M266.27 340.26v6M264.11 341.1l4.32 4.32M264.11 345.42l4.32 -4.32M266.05 343.19h6M269.05 340.19v6M266.89 341.03l4.32 4.32M266.89 345.35l4.32 -4.32M268.83 343.44h6M271.83 340.44v6M269.67 341.28l4.32 4.32M269.67 345.6l4.32 -4.32M271.61 343.44h6M274.61 340.44v6M272.45 341.28l4.32 4.32M272.45 345.6l4.32 -4.32M274.38 343.34h6M277.38 340.34v6M275.22 341.18l4.32 4.32M275.22 345.5l4.32 -4.32M277.16 343.39h6M280.16 340.39v6M278 341.23l4.32 4.32M278 345.55l4.32 -4.32M279.94 343.39h6M282.94 340.39v6M280.78 341.23l4.32 4.32M280.78 345.55l4.32 -4.32M282.72 343.5h6M285.72 340.5v6M283.56 341.34l4.32 4.32M283.56 345.66l4.32 -4.32M285.5 343.45h6M288.5 340.45v6M286.34 341.29l4.32 4.32M286.34 345.61l4.32 -4.32M288.28 343.45h6M291.28 340.45v6M289.12 341.29l4.32 4.32M289.12 345.61l4.32 -4.32M291.06 343.4h6M294.06 340.4v6M291.9 341.24l4.32 4.32M291.9 345.56l4.32 -4.32M293.84 343.5h6M296.84 340.5v6M294.68 341.34l4.32 4.32M294.68 345.66l4.32 -4.32M296.62 343.5h6M299.62 340.5v6M297.46 341.34l4.32 4.32M297.46 345.66l4.32 -4.32M299.4 343.49h6M302.4 340.49v6M300.24 341.33l4.32 4.32M300.24 345.65l4.32 -4.32M302.18 343.49h6M305.18 340.49v6M303.02 341.33l4.32 4.32M303.02 345.65l4.32 -4.32M304.96 343.53h6M307.96 340.53v6M305.8 341.37l4.32 4.32M305.8 345.69l4.32 -4.32M307.74 343.53h6M310.74 340.53v6M308.58 341.37l4.32 4.32M308.58 345.69l4.32 -4.32M310.52 343.53h6M313.52 340.53v6M311.36 341.37l4.32 4.32M311.36 345.69l4.32 -4.32M313.3 343.14h6M316.3 340.14v6M314.14 340.98l4.32 4.32M314.14 345.3l4.32 -4.32M316.08 343.27h6M319.08 340.27v6M316.92 341.11l4.32 4.32M316.92 345.43l4.32 -4.32M318.86 343.27h6M321.86 340.27v6M319.7 341.11l4.32 4.32M319.7 345.43l4.32 -4.32M321.64 343.22h6M324.64 340.22v6M322.48 341.06l4.32 4.32M322.48 345.38l4.32 -4.32M324.42 343.17h6M327.42 340.17v6M325.26 341.01l4.32 4.32M325.26 345.33l4.32 -4.32M327.2 343.27h6M330.2 340.27v6M328.04 341.11l4.32 4.32M328.04 345.43l4.32 -4.32M329.98 343.45h6M332.98 340.45v6M330.82 341.29l4.32 4.32M330.82 345.61l4.32 -4.32M332.76 343.28h6M335.76 340.28v6M333.6 341.12l4.32 4.32M333.6 345.44l4.32 -4.32M335.54 343.43h6M338.54 340.43v6M336.38 341.27l4.32 4.32M336.38 345.59l4.32 -4.32M338.31 343.43h6M341.31 340.43v6M339.15 341.27l4.32 4.32M339.15 345.59l4.32 -4.32M341.09 343.53h6M344.09 340.53v6M341.93 341.37l4.32 4.32M341.93 345.69l4.32 -4.32M343.87 343.49h6M346.87 340.49v6M344.71 341.33l4.32 4.32M344.71 345.65l4.32 -4.32M346.65 343.49h6M349.65 340.49v6M347.49 341.33l4.32 4.32M347.49 345.65l4.32 -4.32M349.43 343.51h6M352.43 340.51v6M350.27 341.35l4.32 4.32M350.27 345.67l4.32 -4.32M352.21 343.51h6M355.21 340.51v6M353.05 341.35l4.32 4.32M353.05 345.67l4.32 -4.32M354.99 343.5h6M357.99 340.5v6M355.83 341.34l4.32 4.32M355.83 345.66l4.32 -4.32M357.77 343.5h6M360.77 340.5v6M358.61 341.34l4.32 4.32M358.61 345.66l4.32 -4.32M360.55 343.52h6M363.55 340.52v6M361.39 341.36l4.32 4.32M361.39 345.68l4.32 -4.32M363.33 343.53h6M366.33 340.53v6M364.17 341.37l4.32 4.32M364.17 345.69l4.32 -4.32M366.11 343.53h6M369.11 340.53v6M366.95 341.37l4.32 4.32M366.95 345.69l4.32 -4.32M368.89 343.39h6M371.89 340.39v6M369.73 341.23l4.32 4.32M369.73 345.55l4.32 -4.32M371.67 343.39h6M374.67 340.39v6M372.51 341.23l4.32 4.32M372.51 345.55l4.32 -4.32M374.45 343.48h6M377.45 340.48v6M375.29 341.32l4.32 4.32M375.29 345.64l4.32 -4.32M377.23 343.48h6M380.23 340.48v6M378.07 341.32l4.32 4.32M378.07 345.64l4.32 -4.32M380.01 343.45h6M383.01 340.45v6M380.85 341.29l4.32 4.32M380.85 345.61l4.32 -4.32M382.79 343.5h6M385.79 340.5v6M383.63 341.34l4.32 4.32M383.63 345.66l4.32 -4.32M385.57 343.5h6M388.57 340.5v6M386.41 341.34l4.32 4.32M386.41 345.66l4.32 -4.32M388.35 343.46h6M391.35 340.46v6M389.19 341.3l4.32 4.32M389.19 345.62l4.32 -4.32M391.13 343.46h6M394.13 340.46v6M391.97 341.3l4.32 4.32M391.97 345.62l4.32 -4.32M393.91 343.39h6M396.91 340.39v6M394.75 341.23l4.32 4.32M394.75 345.55l4.32 -4.32M396.69 343.51h6M399.69 340.51v6M397.53 341.35l4.32 4.32M397.53 345.67l4.32 -4.32M399.46 343.51h6M402.46 340.51v6M400.3 341.35l4.32 4.32M400.3 345.67l4.32 -4.32M402.24 343.45h6M405.24 340.45v6M403.08 341.29l4.32 4.32M403.08 345.61l4.32 -4.32M405.02 343.45h6M408.02 340.45v6M405.86 341.29l4.32 4.32M405.86 345.61l4.32 -4.32M407.8 343.48h6M410.8 340.48v6M408.64 341.32l4.32 4.32M408.64 345.64l4.32 -4.32M410.58 343.4h6M413.58 340.4v6M411.42 341.24l4.32 4.32M411.42 345.56l4.32 -4.32M413.36 343.4h6M416.36 340.4v6M414.2 341.24l4.32 4.32M414.2 345.56l4.32 -4.32M416.14 343.46h6M419.14 340.46v6M416.98 341.3l4.32 4.32M416.98 345.62l4.32 -4.32M418.92 343.5h6M421.92 340.5v6M419.76 341.34l4.32 4.32M419.76 345.66l4.32 -4.32M421.7 343.5h6M424.7 340.5v6M422.54 341.34l4.32 4.32M422.54 345.66l4.32 -4.32M424.48 343.48h6M427.48 340.48v6M425.32 341.32l4.32 4.32M425.32 345.64l4.32 -4.32M427.26 343.48h6M430.26 340.48v6M428.1 341.32l4.32 4.32M428.1 345.64l4.32 -4.32M430.04 343.43h6M433.04 340.43v6M430.88 341.27l4.32 4.32M430.88 345.59l4.32 -4.32M432.82 343.52h6M435.82 340.52v6M433.66 341.36l4.32 4.32M433.66 345.68l4.32 -4.32M435.6 343.44h6M438.6 340.44v6M436.44 341.28l4.32 4.32M436.44 345.6l4.32 -4.32M438.38 343.5h6M441.38 340.5v6M439.22 341.34l4.32 4.32M439.22 345.66l4.32 -4.32M441.16 343.5h6M444.16 340.5v6M442 341.34l4.32 4.32M442 345.66l4.32 -4.32M443.94 343.49h6M446.94 340.49v6M444.78 341.33l4.32 4.32M444.78 345.65l4.32 -4.32M446.72 343.49h6M449.72 340.49v6M447.56 341.33l4.32 4.32M447.56 345.65l4.32 -4.32M449.5 343.52h6M452.5 340.52v6M450.34 341.36l4.32 4.32M450.34 345.68l4.32 -4.32M452.28 343.52h6M455.28 340.52v6M453.12 341.36l4.32 4.32M453.12 345.68l4.32 -4.32" stroke="#737373" stroke-width="1.1" fill="none"/>
<line x1="57.8" y1="342.61" x2="455.28" y2="342.61" stroke="#6aae2a" stroke-width="1.8" stroke-dasharray="11.2 6.2" stroke-dashoffset="14.8" opacity="0.9"/>
<line x1="498.08" y1="343.2" x2="498.08" y2="216" stroke="#949494" stroke-width="1" stroke-dasharray="11.4 6" stroke-dashoffset="2"/>
<path d="M469.5 243.4L473.05 248L469.5 252.6L465.95 248ZM491.8 247.4L495.35 252L491.8 256.6L488.25 252ZM483.5 255.9L487.05 260.5L483.5 265.1L479.95 260.5ZM458.8 284.9L462.35 289.5L458.8 294.1L455.25 289.5ZM461.5 285.4L465.05 290L461.5 294.6L457.95 290ZM471.5 282.4L475.05 287L471.5 291.6L467.95 287ZM475 283.9L478.55 288.5L475 293.1L471.45 288.5ZM477.8 290.4L481.35 295L477.8 299.6L474.25 295ZM463.8 297.4L467.35 302L463.8 306.6L460.25 302ZM486.2 295.4L489.75 300L486.2 304.6L482.65 300ZM497 291.4L500.55 296L497 300.6L493.45 296ZM466.5 308.4L470.05 313L466.5 317.6L462.95 313ZM480.5 304.9L484.05 309.5L480.5 314.1L476.95 309.5ZM489 306.9L492.55 311.5L489 316.1L485.45 311.5ZM494.5 312.4L498.05 317L494.5 321.6L490.95 317Z" fill="#e80c3e"/>
<circle cx="500.1" cy="220.4" r="3.45" fill="#18b7ef"/>
<circle cx="508.6" cy="254.4" r="3.45" fill="#18b7ef"/>
<circle cx="525.2" cy="250.5" r="3.45" fill="#18b7ef"/>
<circle cx="533.6" cy="258.6" r="3.45" fill="#18b7ef"/>
<circle cx="527.8" cy="265" r="3.45" fill="#18b7ef"/>
<circle cx="511.1" cy="291.4" r="3.45" fill="#18b7ef"/>
<circle cx="514.1" cy="289.5" r="3.45" fill="#18b7ef"/>
<circle cx="530.6" cy="290.3" r="3.45" fill="#18b7ef"/>
<circle cx="536.4" cy="287.2" r="3.45" fill="#18b7ef"/>
<circle cx="502.8" cy="296.9" r="3.45" fill="#18b7ef"/>
<circle cx="519.5" cy="296.9" r="3.45" fill="#18b7ef"/>
<circle cx="505.6" cy="305.2" r="3.45" fill="#18b7ef"/>
<circle cx="516.6" cy="303.9" r="3.45" fill="#18b7ef"/>
<circle cx="522.3" cy="303.9" r="3.45" fill="#18b7ef"/>
<circle cx="539.2" cy="305.5" r="3.45" fill="#18b7ef"/>
<line x1="457.08" y1="343.2" x2="457.08" y2="216" stroke="#000" stroke-width="3.2" stroke-dasharray="8.66 8.66"/>
<text transform="translate(15 279.5) rotate(-90) scale(1 1)" font-family="'Liberation Serif','Times New Roman',serif" font-size="15" text-anchor="middle" fill="#222">DI</text>
<rect x="255.6" y="37.6" width="171.1" height="83.7" fill="#fff" stroke="none"/>
<line x1="255.6" y1="83.47" x2="426.7" y2="83.47" stroke="#7abd42" stroke-width="1.1" stroke-dasharray="6.8 4.5" stroke-dashoffset="-0.8"/>
<line x1="410.47" y1="121.3" x2="410.47" y2="37.6" stroke="#8a8a8a" stroke-width="0.9" stroke-dasharray="5.5 5.5"/>
<path d="M256.3 95.65L257.95 97.3L256.3 98.95L254.65 97.3ZM257.6 97.45L259.25 99.1L257.6 100.75L255.95 99.1ZM258.1 99.75L259.75 101.4L258.1 103.05L256.45 101.4ZM259.5 101.55L261.15 103.2L259.5 104.85L257.85 103.2ZM259 102.85L260.65 104.5L259 106.15L257.35 104.5ZM261.3 100.65L262.95 102.3L261.3 103.95L259.65 102.3ZM261.1 94.05L262.75 95.7L261.1 97.35L259.45 95.7ZM263.1 87.45L264.75 89.1L263.1 90.75L261.45 89.1ZM263.8 94.05L265.45 95.7L263.8 97.35L262.15 95.7ZM264.9 103.85L266.55 105.5L264.9 107.15L263.25 105.5ZM266.3 98.35L267.95 100L266.3 101.65L264.65 100ZM268.1 94.05L269.75 95.7L268.1 97.35L266.45 95.7ZM269 104.25L270.65 105.9L269 107.55L267.35 105.9ZM270.4 97.85L272.05 99.5L270.4 101.15L268.75 99.5ZM271.7 97.45L273.35 99.1L271.7 100.75L270.05 99.1ZM273.1 98.85L274.75 100.5L273.1 102.15L271.45 100.5ZM272.6 96.05L274.25 97.7L272.6 99.35L270.95 97.7ZM274.5 95.65L276.15 97.3L274.5 98.95L272.85 97.3ZM275.8 94.45L277.45 96.1L275.8 97.75L274.15 96.1ZM276.7 100.65L278.35 102.3L276.7 103.95L275.05 102.3ZM278.1 101.95L279.75 103.6L278.1 105.25L276.45 103.6ZM279.9 94.45L281.55 96.1L279.9 97.75L278.25 96.1ZM281.3 100.65L282.95 102.3L281.3 103.95L279.65 102.3ZM282.6 101.55L284.25 103.2L282.6 104.85L280.95 103.2ZM284.5 93.85L286.15 95.5L284.5 97.15L282.85 95.5ZM285.4 102.45L287.05 104.1L285.4 105.75L283.75 104.1ZM286.3 97.75L287.95 99.4L286.3 101.05L284.65 99.4ZM287.6 106.85L289.25 108.5L287.6 110.15L285.95 108.5ZM289.5 95.65L291.15 97.3L289.5 98.95L287.85 97.3ZM289.9 101.55L291.55 103.2L289.9 104.85L288.25 103.2ZM291.3 102.85L292.95 104.5L291.3 106.15L289.65 104.5ZM292.6 99.75L294.25 101.4L292.6 103.05L290.95 101.4ZM294 94.75L295.65 96.4L294 98.05L292.35 96.4ZM293.5 103.35L295.15 105L293.5 106.65L291.85 105ZM295.8 96.55L297.45 98.2L295.8 99.85L294.15 98.2ZM295.4 101.05L297.05 102.7L295.4 104.35L293.75 102.7ZM297.5 80.15L299.15 81.8L297.5 83.45L295.85 81.8ZM299.2 85.15L300.85 86.8L299.2 88.45L297.55 86.8ZM298.3 107.45L299.95 109.1L298.3 110.75L296.65 109.1ZM303.2 89.75L304.85 91.4L303.2 93.05L301.55 91.4ZM301.4 93.85L303.05 95.5L301.4 97.15L299.75 95.5ZM300.9 100.65L302.55 102.3L300.9 103.95L299.25 102.3ZM303.2 100.65L304.85 102.3L303.2 103.95L301.55 102.3ZM305 98.35L306.65 100L305 101.65L303.35 100ZM306.4 99.75L308.05 101.4L306.4 103.05L304.75 101.4ZM306.8 94.75L308.45 96.4L306.8 98.05L305.15 96.4ZM308.2 104.75L309.85 106.4L308.2 108.05L306.55 106.4ZM309.1 95.65L310.75 97.3L309.1 98.95L307.45 97.3ZM310 91.55L311.65 93.2L310 94.85L308.35 93.2ZM311.4 95.15L313.05 96.8L311.4 98.45L309.75 96.8ZM311.8 99.75L313.45 101.4L311.8 103.05L310.15 101.4ZM314.1 89.75L315.75 91.4L314.1 93.05L312.45 91.4ZM314.1 97.85L315.75 99.5L314.1 101.15L312.45 99.5ZM315.9 106.95L317.55 108.6L315.9 110.25L314.25 108.6ZM316.4 97.85L318.05 99.5L316.4 101.15L314.75 99.5ZM318.2 94.25L319.85 95.9L318.2 97.55L316.55 95.9ZM318.9 78.35L320.55 80L318.9 81.65L317.25 80ZM319.5 102.85L321.15 104.5L319.5 106.15L317.85 104.5ZM320.9 104.75L322.55 106.4L320.9 108.05L319.25 106.4ZM322.3 94.25L323.95 95.9L322.3 97.55L320.65 95.9ZM323.2 91.95L324.85 93.6L323.2 95.25L321.55 93.6ZM324.5 87.85L326.15 89.5L324.5 91.15L322.85 89.5ZM325.5 92.45L327.15 94.1L325.5 95.75L323.85 94.1ZM327.3 91.55L328.95 93.2L327.3 94.85L325.65 93.2ZM326.4 98.35L328.05 100L326.4 101.65L324.75 100ZM329.1 100.65L330.75 102.3L329.1 103.95L327.45 102.3ZM330.5 104.75L332.15 106.4L330.5 108.05L328.85 106.4ZM328.6 109.25L330.25 110.9L328.6 112.55L326.95 110.9ZM331.8 97.45L333.45 99.1L331.8 100.75L330.15 99.1ZM333.6 95.65L335.25 97.3L333.6 98.95L331.95 97.3ZM334.5 101.55L336.15 103.2L334.5 104.85L332.85 103.2ZM335.5 82.15L337.15 83.8L335.5 85.45L333.85 83.8ZM337.3 100.65L338.95 102.3L337.3 103.95L335.65 102.3ZM338.2 105.15L339.85 106.8L338.2 108.45L336.55 106.8ZM339.5 101.55L341.15 103.2L339.5 104.85L337.85 103.2ZM340.5 92.85L342.15 94.5L340.5 96.15L338.85 94.5ZM342.3 91.55L343.95 93.2L342.3 94.85L340.65 93.2ZM341.4 103.35L343.05 105L341.4 106.65L339.75 105ZM344.5 93.85L346.15 95.5L344.5 97.15L342.85 95.5ZM345.5 92.85L347.15 94.5L345.5 96.15L343.85 94.5ZM344.1 96.55L345.75 98.2L344.1 99.85L342.45 98.2ZM346.4 104.75L348.05 106.4L346.4 108.05L344.75 106.4ZM348.2 100.65L349.85 102.3L348.2 103.95L346.55 102.3ZM349.5 97.45L351.15 99.1L349.5 100.75L347.85 99.1ZM346.5 93.35L348.15 95L346.5 96.65L344.85 95ZM351.5 100.65L353.15 102.3L351.5 103.95L349.85 102.3ZM353.3 101.55L354.95 103.2L353.3 104.85L351.65 103.2ZM355.1 97.45L356.75 99.1L355.1 100.75L353.45 99.1ZM356 104.75L357.65 106.4L356 108.05L354.35 106.4ZM356.9 100.65L358.55 102.3L356.9 103.95L355.25 102.3ZM357.8 89.75L359.45 91.4L357.8 93.05L356.15 91.4ZM359.2 103.35L360.85 105L359.2 106.65L357.55 105ZM360.1 95.15L361.75 96.8L360.1 98.45L358.45 96.8ZM361.9 94.75L363.55 96.4L361.9 98.05L360.25 96.4ZM362.8 102.85L364.45 104.5L362.8 106.15L361.15 104.5ZM364.2 98.85L365.85 100.5L364.2 102.15L362.55 100.5ZM365.1 105.15L366.75 106.8L365.1 108.45L363.45 106.8ZM365.5 96.95L367.15 98.6L365.5 100.25L363.85 98.6ZM366.9 83.85L368.55 85.5L366.9 87.15L365.25 85.5ZM367.8 96.55L369.45 98.2L367.8 99.85L366.15 98.2ZM369.2 97.85L370.85 99.5L369.2 101.15L367.55 99.5ZM370.1 95.65L371.75 97.3L370.1 98.95L368.45 97.3ZM370.5 90.65L372.15 92.3L370.5 93.95L368.85 92.3ZM372.4 96.95L374.05 98.6L372.4 100.25L370.75 98.6ZM373.3 92.85L374.95 94.5L373.3 96.15L371.65 94.5ZM375.5 101.05L377.15 102.7L375.5 104.35L373.85 102.7ZM376.5 90.15L378.15 91.8L376.5 93.45L374.85 91.8ZM376.9 92.85L378.55 94.5L376.9 96.15L375.25 94.5ZM378.3 100.15L379.95 101.8L378.3 103.45L376.65 101.8ZM379.2 93.85L380.85 95.5L379.2 97.15L377.55 95.5ZM381 92.85L382.65 94.5L381 96.15L379.35 94.5ZM382.6 84.05L384.25 85.7L382.6 87.35L380.95 85.7ZM383.3 94.75L384.95 96.4L383.3 98.05L381.65 96.4ZM385.1 93.85L386.75 95.5L385.1 97.15L383.45 95.5ZM386.9 91.05L388.55 92.7L386.9 94.35L385.25 92.7ZM388.3 94.25L389.95 95.9L388.3 97.55L386.65 95.9ZM389.3 80.65L390.95 82.3L389.3 83.95L387.65 82.3ZM390.4 82.95L392.05 84.6L390.4 86.25L388.75 84.6ZM391.3 85.15L392.95 86.8L391.3 88.45L389.65 86.8ZM392.6 87.15L394.25 88.8L392.6 90.45L390.95 88.8ZM393.8 84.35L395.45 86L393.8 87.65L392.15 86ZM392.8 92.25L394.45 93.9L392.8 95.55L391.15 93.9ZM393.3 92.45L394.95 94.1L393.3 95.75L391.65 94.1ZM395.2 101.95L396.85 103.6L395.2 105.25L393.55 103.6Z" fill="#5a5a5a" stroke="#5a5a5a" stroke-width="0.9" stroke-linejoin="round"/>
<line x1="395.61" y1="37.6" x2="395.61" y2="121.3" stroke="#000" stroke-width="2.1" stroke-dasharray="5.4 6" stroke-dashoffset="0"/>
<rect x="255.6" y="37.6" width="171.1" height="83.7" fill="none" stroke="#666" stroke-width="1"/>
<line x1="255.6" y1="121.3" x2="257.6" y2="121.3" stroke="#666" stroke-width="0.8"/>
<line x1="426.7" y1="121.3" x2="424.7" y2="121.3" stroke="#666" stroke-width="0.8"/>
<text transform="translate(252 124.9) scale(1 1.04)" font-family="'Liberation Serif','Times New Roman',serif" font-size="9" font-weight="normal" text-anchor="end" fill="#333">0</text>
<line x1="255.6" y1="104.56" x2="257.6" y2="104.56" stroke="#666" stroke-width="0.8"/>
<line x1="426.7" y1="104.56" x2="424.7" y2="104.56" stroke="#666" stroke-width="0.8"/>
<text transform="translate(252 108.16) scale(1 1.04)" font-family="'Liberation Serif','Times New Roman',serif" font-size="9" font-weight="normal" text-anchor="end" fill="#333">2</text>
<line x1="255.6" y1="87.82" x2="257.6" y2="87.82" stroke="#666" stroke-width="0.8"/>
<line x1="426.7" y1="87.82" x2="424.7" y2="87.82" stroke="#666" stroke-width="0.8"/>
<text transform="translate(252 91.42) scale(1 1.04)" font-family="'Liberation Serif','Times New Roman',serif" font-size="9" font-weight="normal" text-anchor="end" fill="#333">4</text>
<line x1="255.6" y1="71.08" x2="257.6" y2="71.08" stroke="#666" stroke-width="0.8"/>
<line x1="426.7" y1="71.08" x2="424.7" y2="71.08" stroke="#666" stroke-width="0.8"/>
<text transform="translate(252 74.68) scale(1 1.04)" font-family="'Liberation Serif','Times New Roman',serif" font-size="9" font-weight="normal" text-anchor="end" fill="#333">6</text>
<line x1="255.6" y1="54.34" x2="257.6" y2="54.34" stroke="#666" stroke-width="0.8"/>
<line x1="426.7" y1="54.34" x2="424.7" y2="54.34" stroke="#666" stroke-width="0.8"/>
<text transform="translate(252 57.94) scale(1 1.04)" font-family="'Liberation Serif','Times New Roman',serif" font-size="9" font-weight="normal" text-anchor="end" fill="#333">8</text>
<line x1="255.6" y1="37.6" x2="257.6" y2="37.6" stroke="#666" stroke-width="0.8"/>
<line x1="426.7" y1="37.6" x2="424.7" y2="37.6" stroke="#666" stroke-width="0.8"/>
<text transform="translate(252 41.2) scale(1 1.04)" font-family="'Liberation Serif','Times New Roman',serif" font-size="9" font-weight="normal" text-anchor="end" fill="#333">10</text>
<line x1="255.6" y1="121.3" x2="255.6" y2="119.3" stroke="#666" stroke-width="0.8"/>
<line x1="255.6" y1="37.6" x2="255.6" y2="39.6" stroke="#666" stroke-width="0.8"/>
<text transform="translate(255.6 134.6) scale(1 1.04)" font-family="'Liberation Serif','Times New Roman',serif" font-size="9" font-weight="normal" text-anchor="middle" fill="#333">0</text>
<line x1="275.15" y1="121.3" x2="275.15" y2="119.3" stroke="#666" stroke-width="0.8"/>
<line x1="275.15" y1="37.6" x2="275.15" y2="39.6" stroke="#666" stroke-width="0.8"/>
<text transform="translate(275.15 134.6) scale(1 1.04)" font-family="'Liberation Serif','Times New Roman',serif" font-size="9" font-weight="normal" text-anchor="middle" fill="#333">20</text>
<line x1="294.71" y1="121.3" x2="294.71" y2="119.3" stroke="#666" stroke-width="0.8"/>
<line x1="294.71" y1="37.6" x2="294.71" y2="39.6" stroke="#666" stroke-width="0.8"/>
<text transform="translate(294.71 134.6) scale(1 1.04)" font-family="'Liberation Serif','Times New Roman',serif" font-size="9" font-weight="normal" text-anchor="middle" fill="#333">40</text>
<line x1="314.26" y1="121.3" x2="314.26" y2="119.3" stroke="#666" stroke-width="0.8"/>
<line x1="314.26" y1="37.6" x2="314.26" y2="39.6" stroke="#666" stroke-width="0.8"/>
<text transform="translate(314.26 134.6) scale(1 1.04)" font-family="'Liberation Serif','Times New Roman',serif" font-size="9" font-weight="normal" text-anchor="middle" fill="#333">60</text>
<line x1="333.82" y1="121.3" x2="333.82" y2="119.3" stroke="#666" stroke-width="0.8"/>
<line x1="333.82" y1="37.6" x2="333.82" y2="39.6" stroke="#666" stroke-width="0.8"/>
<text transform="translate(333.82 134.6) scale(1 1.04)" font-family="'Liberation Serif','Times New Roman',serif" font-size="9" font-weight="normal" text-anchor="middle" fill="#333">80</text>
<line x1="353.37" y1="121.3" x2="353.37" y2="119.3" stroke="#666" stroke-width="0.8"/>
<line x1="353.37" y1="37.6" x2="353.37" y2="39.6" stroke="#666" stroke-width="0.8"/>
<text transform="translate(353.37 134.6) scale(1 1.04)" font-family="'Liberation Serif','Times New Roman',serif" font-size="9" font-weight="normal" text-anchor="middle" fill="#333">100</text>
<line x1="372.93" y1="121.3" x2="372.93" y2="119.3" stroke="#666" stroke-width="0.8"/>
<line x1="372.93" y1="37.6" x2="372.93" y2="39.6" stroke="#666" stroke-width="0.8"/>
<text transform="translate(372.93 134.6) scale(1 1.04)" font-family="'Liberation Serif','Times New Roman',serif" font-size="9" font-weight="normal" text-anchor="middle" fill="#333">120</text>
<line x1="392.48" y1="121.3" x2="392.48" y2="119.3" stroke="#666" stroke-width="0.8"/>
<line x1="392.48" y1="37.6" x2="392.48" y2="39.6" stroke="#666" stroke-width="0.8"/>
<text transform="translate(392.48 134.6) scale(1 1.04)" font-family="'Liberation Serif','Times New Roman',serif" font-size="9" font-weight="normal" text-anchor="middle" fill="#333">140</text>
<line x1="412.03" y1="121.3" x2="412.03" y2="119.3" stroke="#666" stroke-width="0.8"/>
<line x1="412.03" y1="37.6" x2="412.03" y2="39.6" stroke="#666" stroke-width="0.8"/>
<text transform="translate(412.03 134.6) scale(1 1.04)" font-family="'Liberation Serif','Times New Roman',serif" font-size="9" font-weight="normal" text-anchor="middle" fill="#333">160</text>
<rect x="253" y="232.3" width="173.4" height="83.3" fill="#fff" stroke="none"/>
<line x1="253" y1="242.96" x2="426.4" y2="242.96" stroke="#6eb232" stroke-width="1.25" stroke-dasharray="7.6 3.8" stroke-dashoffset="0"/>
<line x1="409.95" y1="315.6" x2="409.95" y2="232.3" stroke="#e0e0e0" stroke-width="0.9" stroke-dasharray="5.5 5.5"/>
<path d="M254.4 282.65L256.05 284.3L254.4 285.95L252.75 284.3ZM253.6 287.65L255.25 289.3L253.6 290.95L251.95 289.3ZM257.6 288.25L259.25 289.9L257.6 291.55L255.95 289.9ZM255.6 295.65L257.25 297.3L255.6 298.95L253.95 297.3ZM259 300.75L260.65 302.4L259 304.05L257.35 302.4ZM260.5 306.15L262.15 307.8L260.5 309.45L258.85 307.8ZM262.1 291.65L263.75 293.3L262.1 294.95L260.45 293.3ZM265.1 287.65L266.75 289.3L265.1 290.95L263.45 289.3ZM265.1 291.65L266.75 293.3L265.1 294.95L263.45 293.3ZM268.1 290.65L269.75 292.3L268.1 293.95L266.45 292.3ZM270.1 287.65L271.75 289.3L270.1 290.95L268.45 289.3ZM271.1 290.65L272.75 292.3L271.1 293.95L269.45 292.3ZM273.1 283.65L274.75 285.3L273.1 286.95L271.45 285.3ZM273.7 276.65L275.35 278.3L273.7 279.95L272.05 278.3ZM275.1 272.55L276.75 274.2L275.1 275.85L273.45 274.2ZM278.1 273.55L279.75 275.2L278.1 276.85L276.45 275.2ZM280.2 273.55L281.85 275.2L280.2 276.85L278.55 275.2ZM277.1 276.65L278.75 278.3L277.1 279.95L275.45 278.3ZM269.7 264.55L271.35 266.2L269.7 267.85L268.05 266.2ZM276.1 286.65L277.75 288.3L276.1 289.95L274.45 288.3ZM280.2 286.65L281.85 288.3L280.2 289.95L278.55 288.3ZM282.2 301.75L283.85 303.4L282.2 305.05L280.55 303.4ZM283.8 299.75L285.45 301.4L283.8 303.05L282.15 301.4ZM285.2 304.75L286.85 306.4L285.2 308.05L283.55 306.4ZM287.2 306.75L288.85 308.4L287.2 310.05L285.55 308.4ZM288.2 307.75L289.85 309.4L288.2 311.05L286.55 309.4ZM289.2 249.45L290.85 251.1L289.2 252.75L287.55 251.1ZM292.6 250.05L294.25 251.7L292.6 253.35L290.95 251.7ZM295.2 242.45L296.85 244.1L295.2 245.75L293.55 244.1ZM290.2 265.55L291.85 267.2L290.2 268.85L288.55 267.2ZM291.6 268.95L293.25 270.6L291.6 272.25L289.95 270.6ZM293.2 274.15L294.85 275.8L293.2 277.45L291.55 275.8ZM294.2 297.75L295.85 299.4L294.2 301.05L292.55 299.4ZM296.6 301.75L298.25 303.4L296.6 305.05L294.95 303.4ZM299.2 305.75L300.85 307.4L299.2 309.05L297.55 307.4ZM298.2 280.65L299.85 282.3L298.2 283.95L296.55 282.3ZM301.3 279.05L302.95 280.7L301.3 282.35L299.65 280.7ZM300.7 296.35L302.35 298L300.7 299.65L299.05 298ZM303.9 299.15L305.55 300.8L303.9 302.45L302.25 300.8ZM302.7 302.75L304.35 304.4L302.7 306.05L301.05 304.4ZM304.7 305.75L306.35 307.4L304.7 309.05L303.05 307.4ZM307.3 307.75L308.95 309.4L307.3 311.05L305.65 309.4ZM308.3 266.55L309.95 268.2L308.3 269.85L306.65 268.2ZM310.3 263.95L311.95 265.6L310.3 267.25L308.65 265.6ZM311.3 268.95L312.95 270.6L311.3 272.25L309.65 270.6ZM309.3 280.65L310.95 282.3L309.3 283.95L307.65 282.3ZM313.3 285.65L314.95 287.3L313.3 288.95L311.65 287.3ZM312.3 292.25L313.95 293.9L312.3 295.55L310.65 293.9ZM315.9 296.35L317.55 298L315.9 299.65L314.25 298ZM314.3 299.75L315.95 301.4L314.3 303.05L312.65 301.4ZM317.5 296.75L319.15 298.4L317.5 300.05L315.85 298.4ZM319.3 301.15L320.95 302.8L319.3 304.45L317.65 302.8ZM320.4 303.75L322.05 305.4L320.4 307.05L318.75 305.4ZM318.3 307.75L319.95 309.4L318.3 311.05L316.65 309.4ZM322.4 307.75L324.05 309.4L322.4 311.05L320.75 309.4ZM325.4 307.75L327.05 309.4L325.4 311.05L323.75 309.4ZM326.8 280.65L328.45 282.3L326.8 283.95L325.15 282.3ZM328.4 274.15L330.05 275.8L328.4 277.45L326.75 275.8ZM328 292.25L329.65 293.9L328 295.55L326.35 293.9ZM330 297.75L331.65 299.4L330 301.05L328.35 299.4ZM330.7 288.45L332.35 290.1L330.7 291.75L329.05 290.1ZM332.4 293.75L334.05 295.4L332.4 297.05L330.75 295.4ZM337.7 294.25L339.35 295.9L337.7 297.55L336.05 295.9ZM335.2 299.05L336.85 300.7L335.2 302.35L333.55 300.7ZM334.4 304.25L336.05 305.9L334.4 307.55L332.75 305.9ZM338.5 304.55L340.15 306.2L338.5 307.85L336.85 306.2ZM340.9 303.45L342.55 305.1L340.9 306.75L339.25 305.1ZM343.3 307.15L344.95 308.8L343.3 310.45L341.65 308.8ZM345.7 269.15L347.35 270.8L345.7 272.45L344.05 270.8ZM348.9 271.25L350.55 272.9L348.9 274.55L347.25 272.9ZM347.8 276.15L349.45 277.8L347.8 279.45L346.15 277.8ZM346.5 281.35L348.15 283L346.5 284.65L344.85 283ZM349.7 281.75L351.35 283.4L349.7 285.05L348.05 283.4ZM352.1 282.55L353.75 284.2L352.1 285.85L350.45 284.2ZM353.4 296.95L355.05 298.6L353.4 300.25L351.75 298.6ZM351.3 299.35L352.95 301L351.3 302.65L349.65 301ZM356.1 303.45L357.75 305.1L356.1 306.75L354.45 305.1ZM358.5 305.05L360.15 306.7L358.5 308.35L356.85 306.7ZM355.3 307.15L356.95 308.8L355.3 310.45L353.65 308.8ZM361.8 305.85L363.45 307.5L361.8 309.15L360.15 307.5ZM360.8 304.25L362.45 305.9L360.8 307.55L359.15 305.9ZM363.2 306.65L364.85 308.3L363.2 309.95L361.55 308.3ZM365.6 292.95L367.25 294.6L365.6 296.25L363.95 294.6ZM367.2 302.65L368.85 304.3L367.2 305.95L365.55 304.3ZM368.8 299.35L370.45 301L368.8 302.65L367.15 301ZM370.4 304.25L372.05 305.9L370.4 307.55L368.75 305.9ZM372.5 300.15L374.15 301.8L372.5 303.45L370.85 301.8ZM373.7 292.95L375.35 294.6L373.7 296.25L372.05 294.6ZM375.3 305.05L376.95 306.7L375.3 308.35L373.65 306.7ZM377.3 299.35L378.95 301L377.3 302.65L375.65 301ZM379 302.65L380.65 304.3L379 305.95L377.35 304.3ZM380.6 294.55L382.25 296.2L380.6 297.85L378.95 296.2ZM381.7 300.15L383.35 301.8L381.7 303.45L380.05 301.8ZM383.8 304.25L385.45 305.9L383.8 307.55L382.15 305.9ZM385.7 302.65L387.35 304.3L385.7 305.95L384.05 304.3ZM387 297.45L388.65 299.1L387 300.75L385.35 299.1ZM388.9 297.75L390.55 299.4L388.9 301.05L387.25 299.4ZM388.1 305.85L389.75 307.5L388.1 309.15L386.45 307.5ZM390.5 304.25L392.15 305.9L390.5 307.55L388.85 305.9ZM392.9 303.45L394.55 305.1L392.9 306.75L391.25 305.1ZM393.7 305.85L395.35 307.5L393.7 309.15L392.05 307.5Z" fill="#5a5a5a" stroke="#5a5a5a" stroke-width="0.9" stroke-linejoin="round"/>
<line x1="394.89" y1="232.3" x2="394.89" y2="315.6" stroke="#000" stroke-width="2.5" stroke-dasharray="7.2 5.5" stroke-dashoffset="0"/>
<rect x="253" y="232.3" width="173.4" height="83.3" fill="none" stroke="#666" stroke-width="1"/>
<line x1="253" y1="315.6" x2="255" y2="315.6" stroke="#666" stroke-width="0.8"/>
<line x1="426.4" y1="315.6" x2="424.4" y2="315.6" stroke="#666" stroke-width="0.8"/>
<text transform="translate(249.4 319.2) scale(1 1.04)" font-family="'Liberation Serif','Times New Roman',serif" font-size="9" font-weight="normal" text-anchor="end" fill="#333">0</text>
<line x1="253" y1="298.94" x2="255" y2="298.94" stroke="#666" stroke-width="0.8"/>
<line x1="426.4" y1="298.94" x2="424.4" y2="298.94" stroke="#666" stroke-width="0.8"/>
<text transform="translate(249.4 302.54) scale(1 1.04)" font-family="'Liberation Serif','Times New Roman',serif" font-size="9" font-weight="normal" text-anchor="end" fill="#333">2</text>
<line x1="253" y1="282.28" x2="255" y2="282.28" stroke="#666" stroke-width="0.8"/>
<line x1="426.4" y1="282.28" x2="424.4" y2="282.28" stroke="#666" stroke-width="0.8"/>
<text transform="translate(249.4 285.88) scale(1 1.04)" font-family="'Liberation Serif','Times New Roman',serif" font-size="9" font-weight="normal" text-anchor="end" fill="#333">4</text>
<line x1="253" y1="265.62" x2="255" y2="265.62" stroke="#666" stroke-width="0.8"/>
<line x1="426.4" y1="265.62" x2="424.4" y2="265.62" stroke="#666" stroke-width="0.8"/>
<text transform="translate(249.4 269.22) scale(1 1.04)" font-family="'Liberation Serif','Times New Roman',serif" font-size="9" font-weight="normal" text-anchor="end" fill="#333">6</text>
<line x1="253" y1="248.96" x2="255" y2="248.96" stroke="#666" stroke-width="0.8"/>
<line x1="426.4" y1="248.96" x2="424.4" y2="248.96" stroke="#666" stroke-width="0.8"/>
<text transform="translate(249.4 252.56) scale(1 1.04)" font-family="'Liberation Serif','Times New Roman',serif" font-size="9" font-weight="normal" text-anchor="end" fill="#333">8</text>
<line x1="253" y1="232.3" x2="255" y2="232.3" stroke="#666" stroke-width="0.8"/>
<line x1="426.4" y1="232.3" x2="424.4" y2="232.3" stroke="#666" stroke-width="0.8"/>
<text transform="translate(249.4 235.9) scale(1 1.04)" font-family="'Liberation Serif','Times New Roman',serif" font-size="9" font-weight="normal" text-anchor="end" fill="#333">10</text>
<line x1="253" y1="315.6" x2="253" y2="313.6" stroke="#666" stroke-width="0.8"/>
<line x1="253" y1="232.3" x2="253" y2="234.3" stroke="#666" stroke-width="0.8"/>
<text transform="translate(253 328.7) scale(1 1.04)" font-family="'Liberation Serif','Times New Roman',serif" font-size="9" font-weight="normal" text-anchor="middle" fill="#333">0</text>
<line x1="272.82" y1="315.6" x2="272.82" y2="313.6" stroke="#666" stroke-width="0.8"/>
<line x1="272.82" y1="232.3" x2="272.82" y2="234.3" stroke="#666" stroke-width="0.8"/>
<text transform="translate(272.82 328.7) scale(1 1.04)" font-family="'Liberation Serif','Times New Roman',serif" font-size="9" font-weight="normal" text-anchor="middle" fill="#333">20</text>
<line x1="292.63" y1="315.6" x2="292.63" y2="313.6" stroke="#666" stroke-width="0.8"/>
<line x1="292.63" y1="232.3" x2="292.63" y2="234.3" stroke="#666" stroke-width="0.8"/>
<text transform="translate(292.63 328.7) scale(1 1.04)" font-family="'Liberation Serif','Times New Roman',serif" font-size="9" font-weight="normal" text-anchor="middle" fill="#333">40</text>
<line x1="312.45" y1="315.6" x2="312.45" y2="313.6" stroke="#666" stroke-width="0.8"/>
<line x1="312.45" y1="232.3" x2="312.45" y2="234.3" stroke="#666" stroke-width="0.8"/>
<text transform="translate(312.45 328.7) scale(1 1.04)" font-family="'Liberation Serif','Times New Roman',serif" font-size="9" font-weight="normal" text-anchor="middle" fill="#333">60</text>
<line x1="332.27" y1="315.6" x2="332.27" y2="313.6" stroke="#666" stroke-width="0.8"/>
<line x1="332.27" y1="232.3" x2="332.27" y2="234.3" stroke="#666" stroke-width="0.8"/>
<text transform="translate(332.27 328.7) scale(1 1.04)" font-family="'Liberation Serif','Times New Roman',serif" font-size="9" font-weight="normal" text-anchor="middle" fill="#333">80</text>
<line x1="352.09" y1="315.6" x2="352.09" y2="313.6" stroke="#666" stroke-width="0.8"/>
<line x1="352.09" y1="232.3" x2="352.09" y2="234.3" stroke="#666" stroke-width="0.8"/>
<text transform="translate(352.09 328.7) scale(1 1.04)" font-family="'Liberation Serif','Times New Roman',serif" font-size="9" font-weight="normal" text-anchor="middle" fill="#333">100</text>
<line x1="371.9" y1="315.6" x2="371.9" y2="313.6" stroke="#666" stroke-width="0.8"/>
<line x1="371.9" y1="232.3" x2="371.9" y2="234.3" stroke="#666" stroke-width="0.8"/>
<text transform="translate(371.9 328.7) scale(1 1.04)" font-family="'Liberation Serif','Times New Roman',serif" font-size="9" font-weight="normal" text-anchor="middle" fill="#333">120</text>
<line x1="391.72" y1="315.6" x2="391.72" y2="313.6" stroke="#666" stroke-width="0.8"/>
<line x1="391.72" y1="232.3" x2="391.72" y2="234.3" stroke="#666" stroke-width="0.8"/>
<text transform="translate(391.72 328.7) scale(1 1.04)" font-family="'Liberation Serif','Times New Roman',serif" font-size="9" font-weight="normal" text-anchor="middle" fill="#333">140</text>
<line x1="411.54" y1="315.6" x2="411.54" y2="313.6" stroke="#666" stroke-width="0.8"/>
<line x1="411.54" y1="232.3" x2="411.54" y2="234.3" stroke="#666" stroke-width="0.8"/>
<text transform="translate(411.54 328.7) scale(1 1.04)" font-family="'Liberation Serif','Times New Roman',serif" font-size="9" font-weight="normal" text-anchor="middle" fill="#333">160</text>
<line x1="221.1" y1="141.3" x2="241.77" y2="117.23" stroke="#8c8c8c" stroke-width="1.2"/>
<path d="M246 112.3L243.62 120.14L238.61 115.84Z" fill="#8a8a8a"/>
<line x1="218.4" y1="338" x2="238.66" y2="314.43" stroke="#8c8c8c" stroke-width="1.2"/>
<path d="M242.9 309.5L240.51 317.34L235.51 313.04Z" fill="#8a8a8a"/>
<rect x="88.95" y="48.6" width="3.3" height="34" rx="0.6" fill="#fff" stroke="#a0a0a0" stroke-width="1.0"/>
<rect x="102.3" y="48.6" width="3.3" height="34" rx="0.6" fill="#fff" stroke="#a0a0a0" stroke-width="1.0"/>
<rect x="115.65" y="48.6" width="3.3" height="34" rx="0.6" fill="#fff" stroke="#a0a0a0" stroke-width="1.0"/>
<rect x="129" y="48.6" width="3.3" height="34" rx="0.6" fill="#fff" stroke="#a0a0a0" stroke-width="1.0"/>
<rect x="142.35" y="48.6" width="3.3" height="34" rx="0.6" fill="#fff" stroke="#a0a0a0" stroke-width="1.0"/>
<line x1="81" y1="54" x2="150.8" y2="54" stroke="#a2a2a2" stroke-width="1.2"/>
<line x1="84.4" y1="76.3" x2="150.8" y2="76.3" stroke="#a2a2a2" stroke-width="1.2"/>
<path d="M94.4 53.9Q97.1 49.7 99.8 53.9Z" fill="#74a83a"/>
<circle cx="97.1" cy="51.8" r="1.2" fill="#e8141a"/>
<path d="M107.8 53.9Q110.5 49.7 113.2 53.9Z" fill="#74a83a"/>
<circle cx="110.5" cy="51.8" r="1.2" fill="#e8141a"/>
<path d="M121.3 53.9Q124 49.7 126.7 53.9Z" fill="#74a83a"/>
<circle cx="124" cy="51.8" r="1.2" fill="#e8141a"/>
<path d="M134.6 53.9Q137.3 49.7 140 53.9Z" fill="#74a83a"/>
<circle cx="137.3" cy="51.8" r="1.2" fill="#e8141a"/>
<path d="M94.4 76.9Q97.1 81.1 99.8 76.9Z" fill="#74a83a"/>
<circle cx="97.1" cy="79" r="1.2" fill="#e8141a"/>
<path d="M107.8 76.9Q110.5 81.1 113.2 76.9Z" fill="#74a83a"/>
<circle cx="110.5" cy="79" r="1.2" fill="#e8141a"/>
<path d="M121.3 76.9Q124 81.1 126.7 76.9Z" fill="#74a83a"/>
<circle cx="124" cy="79" r="1.2" fill="#e8141a"/>
<path d="M134.6 76.9Q137.3 81.1 140 76.9Z" fill="#74a83a"/>
<circle cx="137.3" cy="79" r="1.2" fill="#e8141a"/>
<text transform="translate(97.1 49.3)" font-family="'Liberation Sans','DejaVu Sans',sans-serif" font-size="8.3" font-weight="bold" text-anchor="middle" fill="#000" stroke="#000" stroke-width="0.12">5</text>
<text transform="translate(110.5 49.3)" font-family="'Liberation Sans','DejaVu Sans',sans-serif" font-size="8.3" font-weight="bold" text-anchor="middle" fill="#000" stroke="#000" stroke-width="0.12">6</text>
<text transform="translate(124 49.3)" font-family="'Liberation Sans','DejaVu Sans',sans-serif" font-size="8.3" font-weight="bold" text-anchor="middle" fill="#000" stroke="#000" stroke-width="0.12">7</text>
<text transform="translate(137.3 49.3)" font-family="'Liberation Sans','DejaVu Sans',sans-serif" font-size="8.3" font-weight="bold" text-anchor="middle" fill="#000" stroke="#000" stroke-width="0.12">8</text>
<text transform="translate(97.1 87.6)" font-family="'Liberation Sans','DejaVu Sans',sans-serif" font-size="8.3" font-weight="bold" text-anchor="middle" fill="#000" stroke="#000" stroke-width="0.12">1</text>
<text transform="translate(110.5 87.6)" font-family="'Liberation Sans','DejaVu Sans',sans-serif" font-size="8.3" font-weight="bold" text-anchor="middle" fill="#000" stroke="#000" stroke-width="0.12">2</text>
<text transform="translate(124 87.6)" font-family="'Liberation Sans','DejaVu Sans',sans-serif" font-size="8.3" font-weight="bold" text-anchor="middle" fill="#000" stroke="#000" stroke-width="0.12">3</text>
<text transform="translate(137.3 87.6)" font-family="'Liberation Sans','DejaVu Sans',sans-serif" font-size="8.3" font-weight="bold" text-anchor="middle" fill="#000" stroke="#000" stroke-width="0.12">4</text>
<text transform="translate(152.9 54.7)" font-family="'Liberation Serif','Times New Roman',serif" font-size="9" font-weight="normal" text-anchor="start" fill="#7a7a7a">D</text>
<line x1="150.6" y1="48.8" x2="150.6" y2="54.3" stroke="#a0a0a0" stroke-width="0.9"/>
<path d="M84 45.9Q80.4 48.3 84 50.8" stroke="#666" stroke-width="1.3" fill="none"/>
<rect x="89.65" y="245.2" width="2.6" height="33.2" rx="0.6" fill="#fff" stroke="#a0a0a0" stroke-width="1.0"/>
<rect x="102.95" y="245.2" width="2.6" height="33.2" rx="0.6" fill="#fff" stroke="#a0a0a0" stroke-width="1.0"/>
<rect x="116.25" y="245.2" width="2.6" height="33.2" rx="0.6" fill="#fff" stroke="#a0a0a0" stroke-width="1.0"/>
<rect x="129.55" y="245.2" width="2.6" height="33.2" rx="0.6" fill="#fff" stroke="#a0a0a0" stroke-width="1.0"/>
<rect x="142.85" y="245.2" width="2.6" height="33.2" rx="0.6" fill="#fff" stroke="#a0a0a0" stroke-width="1.0"/>
<line x1="84.5" y1="250.2" x2="151" y2="250.2" stroke="#a2a2a2" stroke-width="1.2"/>
<line x1="84.5" y1="272.7" x2="151" y2="272.7" stroke="#a2a2a2" stroke-width="1.2"/>
<path d="M94.8 250Q97.5 245.8 100.2 250Z" fill="#74a83a"/>
<circle cx="97.5" cy="247.9" r="1.2" fill="#e8141a"/>
<path d="M108.2 250Q110.9 245.8 113.6 250Z" fill="#74a83a"/>
<circle cx="110.9" cy="247.9" r="1.2" fill="#e8141a"/>
<path d="M121.7 250Q124.4 245.8 127.1 250Z" fill="#74a83a"/>
<circle cx="124.4" cy="247.9" r="1.2" fill="#e8141a"/>
<path d="M134.9 250Q137.6 245.8 140.3 250Z" fill="#74a83a"/>
<circle cx="137.6" cy="247.9" r="1.2" fill="#e8141a"/>
<path d="M94.8 272.9Q97.5 277.1 100.2 272.9Z" fill="#74a83a"/>
<circle cx="97.5" cy="275" r="1.2" fill="#e8141a"/>
<path d="M108.2 272.9Q110.9 277.1 113.6 272.9Z" fill="#74a83a"/>
<circle cx="110.9" cy="275" r="1.2" fill="#e8141a"/>
<path d="M121.7 272.9Q124.4 277.1 127.1 272.9Z" fill="#74a83a"/>
<circle cx="124.4" cy="275" r="1.2" fill="#e8141a"/>
<path d="M134.9 272.9Q137.6 277.1 140.3 272.9Z" fill="#74a83a"/>
<circle cx="137.6" cy="275" r="1.2" fill="#e8141a"/>
<text transform="translate(97.5 245.4)" font-family="'Liberation Sans','DejaVu Sans',sans-serif" font-size="8.3" font-weight="bold" text-anchor="middle" fill="#000" stroke="#000" stroke-width="0.12">5</text>
<text transform="translate(110.9 245.4)" font-family="'Liberation Sans','DejaVu Sans',sans-serif" font-size="8.3" font-weight="bold" text-anchor="middle" fill="#000" stroke="#000" stroke-width="0.12">6</text>
<text transform="translate(124.4 245.4)" font-family="'Liberation Sans','DejaVu Sans',sans-serif" font-size="8.3" font-weight="bold" text-anchor="middle" fill="#000" stroke="#000" stroke-width="0.12">7</text>
<text transform="translate(137.6 245.4)" font-family="'Liberation Sans','DejaVu Sans',sans-serif" font-size="8.3" font-weight="bold" text-anchor="middle" fill="#000" stroke="#000" stroke-width="0.12">8</text>
<text transform="translate(97.5 283.9)" font-family="'Liberation Sans','DejaVu Sans',sans-serif" font-size="8.3" font-weight="bold" text-anchor="middle" fill="#000" stroke="#000" stroke-width="0.12">1</text>
<text transform="translate(110.9 283.9)" font-family="'Liberation Sans','DejaVu Sans',sans-serif" font-size="8.3" font-weight="bold" text-anchor="middle" fill="#000" stroke="#000" stroke-width="0.12">2</text>
<text transform="translate(124.4 283.9)" font-family="'Liberation Sans','DejaVu Sans',sans-serif" font-size="8.3" font-weight="bold" text-anchor="middle" fill="#000" stroke="#000" stroke-width="0.12">3</text>
<text transform="translate(137.6 283.9)" font-family="'Liberation Sans','DejaVu Sans',sans-serif" font-size="8.3" font-weight="bold" text-anchor="middle" fill="#000" stroke="#000" stroke-width="0.12">4</text>
<text transform="translate(81.8 246.8)" font-family="'Liberation Serif','Times New Roman',serif" font-size="7" font-weight="normal" text-anchor="start" fill="#c4c4c4">S</text>
<text transform="translate(150.6 247.4)" font-family="'Liberation Serif','Times New Roman',serif" font-size="11" font-weight="normal" text-anchor="start" fill="#9a9a9a">ıp</text>
<text transform="translate(198 16.6)" font-family="'Liberation Serif','Times New Roman',serif" font-size="13.1" font-weight="bold" text-anchor="start" fill="#111">Baseline scenarios</text>
<text transform="translate(446.2 16.8)" font-family="'Liberation Serif','Times New Roman',serif" font-size="13.1" font-weight="bold" text-anchor="start" fill="#111">Damage scenarios</text>
<text transform="translate(278 193) scale(1 1.05)" font-family="'Liberation Serif','Times New Roman',serif" font-size="12.7" font-weight="normal" text-anchor="middle" fill="#222">(<tspan font-weight="bold">a</tspan>)</text>
<text transform="translate(277.9 389.2) scale(1 1.04)" font-family="'Liberation Serif','Times New Roman',serif" font-size="12.9" font-weight="normal" text-anchor="middle" fill="#222">(<tspan font-weight="bold">b</tspan>)</text>
<text transform="translate(278 409)" font-family="'Liberation Serif','Times New Roman',serif" font-size="15.2" font-weight="normal" text-anchor="middle" fill="#222">Train Passage</text>
<path d="M78.5 435.8h7M82 432.3v7M79.48 433.28l5.04 5.04M79.48 438.32l5.04 -5.04" stroke="#707070" stroke-width="1.1" fill="none"/>
<text transform="translate(110.7 441.3)" font-family="'Liberation Serif','Times New Roman',serif" font-size="14.8" font-weight="normal" text-anchor="start" fill="#222">Undamage</text>
<path d="M205.5 430.4L209.4 435.4L205.5 440.4L201.6 435.4Z" fill="#e80c3e"/>
<text transform="translate(233.6 441.7)" font-family="'Liberation Serif','Times New Roman',serif" font-size="14.8" font-weight="normal" text-anchor="start" fill="#222">a1 [0.2-0.6]mm</text>
<circle cx="356.8" cy="435.3" r="3.7" fill="#18b7ef"/>
<text transform="translate(385 441.7)" font-family="'Liberation Serif','Times New Roman',serif" font-size="14.8" font-weight="normal" text-anchor="start" fill="#222">a2 [0.8-1.2]mm</text>
</svg></body></html>
